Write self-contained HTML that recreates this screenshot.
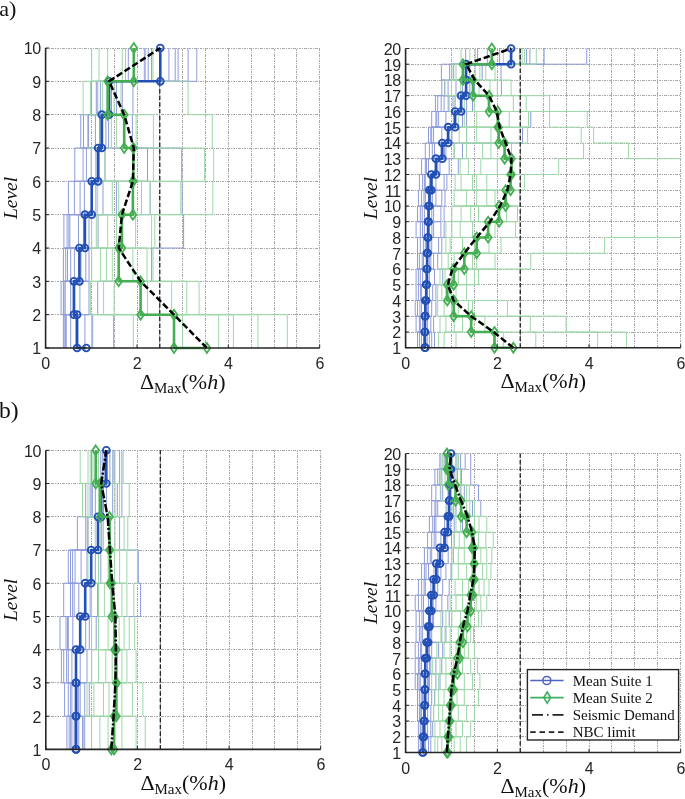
<!DOCTYPE html>
<html><head><meta charset="utf-8"><title>Drift profiles</title><style>
html,body{margin:0;padding:0;background:#fff;}
body{width:685px;height:799px;overflow:hidden;}
svg{display:block;}
.tk{font-family:"Liberation Sans",Arial,sans-serif;font-size:16px;letter-spacing:-0.4px;fill:#262626;}
.xl{font-family:"Liberation Serif","Times New Roman",serif;font-size:22px;fill:#111;}
.sub{font-size:15px;}
.yl{font-family:"Liberation Serif","Times New Roman",serif;font-size:19.5px;font-style:italic;fill:#111;}
.pl{font-family:"Liberation Serif","Times New Roman",serif;font-size:22px;fill:#111;}
.lt{font-family:"Liberation Serif","Times New Roman",serif;font-size:15px;fill:#111;}
</style></head>
<body>
<svg width="685" height="799" viewBox="0 0 685 799">
<rect width="685" height="799" fill="#fff"/>
<path d="M91.3,348.0V48.0M114.1,348.0V48.0M137.0,348.0V48.0M159.8,348.0V48.0M182.6,348.0V48.0M205.5,348.0V48.0M228.3,348.0V48.0M251.2,348.0V48.0M274.0,348.0V48.0M296.9,348.0V48.0M319.7,348.0V48.0M45.6,314.7H319.7M45.6,281.3H319.7M45.6,248.0H319.7M45.6,214.7H319.7M45.6,181.3H319.7M45.6,148.0H319.7M45.6,114.7H319.7M45.6,81.3H319.7M45.6,48.0H319.7" stroke="#a8a8a8" stroke-width="1" stroke-dasharray="2.5 1 1 1" fill="none" shape-rendering="crispEdges"/>
<clipPath id="cpA"><rect x="45.6" y="47.0" width="274.6" height="302.0"/></clipPath>
<g clip-path="url(#cpA)">
<path d="M66.2,348.0 L66.2,348.0 L66.2,314.7 L61.1,314.7 L61.1,281.3 L70.7,281.3 L70.7,248.0 L98.1,248.0 L98.1,214.7 L150.2,214.7 L150.2,181.3 L91.3,181.3 L91.3,148.0 L105.9,148.0 L105.9,114.7 L122.3,114.7 L122.3,81.3 L178.1,81.3 L178.1,48.0" stroke="#8f9cdb" stroke-width="1" fill="none"/>
<path d="M70.7,348.0 L70.7,348.0 L70.7,314.7 L63.4,314.7 L63.4,281.3 L89.0,281.3 L89.0,248.0 L67.1,248.0 L67.1,214.7 L95.9,214.7 L95.9,181.3 L95.9,181.3 L95.9,148.0 L95.4,148.0 L95.4,114.7 L107.3,114.7 L107.3,81.3 L188.1,81.3 L188.1,48.0" stroke="#8f9cdb" stroke-width="1" fill="none"/>
<path d="M92.7,348.0 L92.7,348.0 L92.7,314.7 L65.2,314.7 L65.2,281.3 L85.8,281.3 L85.8,248.0 L69.8,248.0 L69.8,214.7 L116.4,214.7 L116.4,181.3 L83.1,181.3 L83.1,148.0 L108.6,148.0 L108.6,114.7 L91.3,114.7 L91.3,81.3 L144.3,81.3 L144.3,48.0" stroke="#8f9cdb" stroke-width="1" fill="none"/>
<path d="M63.4,348.0 L63.4,348.0 L63.4,314.7 L79.9,314.7 L79.9,281.3 L74.4,281.3 L74.4,248.0 L63.9,248.0 L63.9,214.7 L68.4,214.7 L68.4,181.3 L105.0,181.3 L105.0,148.0 L83.5,148.0 L83.5,114.7 L100.4,114.7 L100.4,81.3 L128.3,81.3 L128.3,48.0" stroke="#8f9cdb" stroke-width="1" fill="none"/>
<path d="M84.9,348.0 L84.9,348.0 L84.9,314.7 L89.0,314.7 L89.0,281.3 L63.4,281.3 L63.4,248.0 L89.0,248.0 L89.0,214.7 L74.4,214.7 L74.4,181.3 L147.5,181.3 L147.5,148.0 L80.8,148.0 L80.8,114.7 L96.3,114.7 L96.3,81.3 L151.6,81.3 L151.6,48.0" stroke="#8f9cdb" stroke-width="1" fill="none"/>
<path d="M64.8,348.0 L64.8,348.0 L64.8,314.7 L70.7,314.7 L70.7,281.3 L65.7,281.3 L65.7,248.0 L78.5,248.0 L78.5,214.7 L84.4,214.7 L84.4,181.3 L74.8,181.3 L74.8,148.0 L99.5,148.0 L99.5,114.7 L116.4,114.7 L116.4,81.3 L168.9,81.3 L168.9,48.0" stroke="#8f9cdb" stroke-width="1" fill="none"/>
<path d="M113.7,348.0 L113.7,348.0 L113.7,314.7 L97.7,314.7 L97.7,281.3 L151.6,281.3 L151.6,248.0 L183.6,248.0 L183.6,214.7 L182.2,214.7 L182.2,181.3 L181.7,181.3 L181.7,148.0 L132.4,148.0 L132.4,114.7 L132.9,114.7 L132.9,81.3 L196.8,81.3 L196.8,48.0" stroke="#8f9cdb" stroke-width="1" fill="none"/>
<path d="M65.7,348.0 L65.7,348.0 L65.7,314.7 L64.0,314.7 L64.0,281.3 L67.5,281.3 L67.5,248.0 L68.9,248.0 L68.9,214.7 L80.1,214.7 L80.1,181.3 L86.4,181.3 L86.4,148.0 L88.5,148.0 L88.5,114.7 L97.6,114.7 L97.6,81.3 L148.2,81.3 L148.2,48.0" stroke="#8f9cdb" stroke-width="1" fill="none"/>
<path d="M75.9,348.0 L75.9,348.0 L75.9,314.7 L74.7,314.7 L74.7,281.3 L81.0,281.3 L81.0,248.0 L83.4,248.0 L83.4,214.7 L103.0,214.7 L103.0,181.3 L99.1,181.3 L99.1,148.0 L102.7,148.0 L102.7,114.7 L111.5,114.7 L111.5,81.3 L175.2,81.3 L175.2,48.0" stroke="#8f9cdb" stroke-width="1" fill="none"/>
<path d="M182.6,348.0 L182.6,348.0 L182.6,314.7 L103.6,314.7 L103.6,281.3 L147.0,281.3 L147.0,248.0 L91.7,248.0 L91.7,214.7 L180.8,214.7 L180.8,181.3 L153.4,181.3 L153.4,148.0 L116.4,148.0 L116.4,114.7 L114.1,114.7 L114.1,81.3 L91.7,81.3 L91.7,48.0" stroke="#9dd8a8" stroke-width="1" fill="none"/>
<path d="M218.7,348.0 L218.7,348.0 L218.7,314.7 L90.4,314.7 L90.4,281.3 L106.4,281.3 L106.4,248.0 L96.3,248.0 L96.3,214.7 L112.3,214.7 L112.3,181.3 L91.3,181.3 L91.3,148.0 L111.4,148.0 L111.4,114.7 L102.7,114.7 L102.7,81.3 L107.7,81.3 L107.7,48.0" stroke="#9dd8a8" stroke-width="1" fill="none"/>
<path d="M133.3,348.0 L133.3,348.0 L133.3,314.7 L147.5,314.7 L147.5,281.3 L112.3,281.3 L112.3,248.0 L116.4,248.0 L116.4,214.7 L141.5,214.7 L141.5,181.3 L98.1,181.3 L98.1,148.0 L87.6,148.0 L87.6,114.7 L83.1,114.7 L83.1,81.3 L122.3,81.3 L122.3,48.0" stroke="#9dd8a8" stroke-width="1" fill="none"/>
<path d="M233.4,348.0 L233.4,348.0 L233.4,314.7 L171.7,314.7 L171.7,281.3 L100.4,281.3 L100.4,248.0 L107.7,248.0 L107.7,214.7 L97.7,214.7 L97.7,181.3 L204.6,181.3 L204.6,148.0 L153.4,148.0 L153.4,114.7 L121.0,114.7 L121.0,81.3 L99.0,81.3 L99.0,48.0" stroke="#9dd8a8" stroke-width="1" fill="none"/>
<path d="M258.0,348.0 L258.0,348.0 L258.0,314.7 L114.1,314.7 L114.1,281.3 L91.7,281.3 L91.7,248.0 L135.6,248.0 L135.6,214.7 L118.7,214.7 L118.7,181.3 L105.0,181.3 L105.0,148.0 L100.4,148.0 L100.4,114.7 L97.7,114.7 L97.7,81.3 L145.6,81.3 L145.6,48.0" stroke="#9dd8a8" stroke-width="1" fill="none"/>
<path d="M91.7,348.0 L91.7,348.0 L91.7,314.7 L186.8,314.7 L186.8,281.3 L132.9,281.3 L132.9,248.0 L151.6,248.0 L151.6,214.7 L150.2,214.7 L150.2,181.3 L132.4,181.3 L132.4,148.0 L136.1,148.0 L136.1,114.7 L90.4,114.7 L90.4,81.3 L125.5,81.3 L125.5,48.0" stroke="#9dd8a8" stroke-width="1" fill="none"/>
<path d="M287.3,348.0 L287.3,348.0 L287.3,314.7 L199.1,314.7 L199.1,281.3 L153.0,281.3 L153.0,248.0 L154.8,248.0 L154.8,214.7 L212.8,214.7 L212.8,181.3 L213.7,181.3 L213.7,148.0 L212.3,148.0 L212.3,114.7 L188.1,114.7 L188.1,81.3 L153.0,81.3 L153.0,48.0" stroke="#9dd8a8" stroke-width="1" fill="none"/>
</g>
<path d="M159.8,348.0V48.0" stroke="#111" stroke-width="1.2" stroke-dasharray="4.5 2.2" fill="none"/>
<path d="M86.3,348.0 L77.1,348.0 L77.1,314.7 L73.9,314.7 L73.9,281.3 L79.4,281.3 L79.4,248.0 L84.9,248.0 L84.9,214.7 L91.7,214.7 L91.7,181.3 L98.1,181.3 L98.1,148.0 L101.8,148.0 L101.8,114.7 L109.1,114.7 L109.1,81.3 L160.3,81.3 L160.3,48.0" stroke="#2350b5" stroke-width="2.6" fill="none" stroke-linejoin="round"/>
<circle cx="86.3" cy="348.0" r="3.4" stroke="#2350b5" stroke-width="1.9" fill="none"/>
<circle cx="77.1" cy="348.0" r="3.4" stroke="#2350b5" stroke-width="1.9" fill="none"/>
<circle cx="77.1" cy="314.7" r="3.4" stroke="#2350b5" stroke-width="1.9" fill="none"/>
<circle cx="73.9" cy="314.7" r="3.4" stroke="#2350b5" stroke-width="1.9" fill="none"/>
<circle cx="73.9" cy="281.3" r="3.4" stroke="#2350b5" stroke-width="1.9" fill="none"/>
<circle cx="79.4" cy="281.3" r="3.4" stroke="#2350b5" stroke-width="1.9" fill="none"/>
<circle cx="79.4" cy="248.0" r="3.4" stroke="#2350b5" stroke-width="1.9" fill="none"/>
<circle cx="84.9" cy="248.0" r="3.4" stroke="#2350b5" stroke-width="1.9" fill="none"/>
<circle cx="84.9" cy="214.7" r="3.4" stroke="#2350b5" stroke-width="1.9" fill="none"/>
<circle cx="91.7" cy="214.7" r="3.4" stroke="#2350b5" stroke-width="1.9" fill="none"/>
<circle cx="91.7" cy="181.3" r="3.4" stroke="#2350b5" stroke-width="1.9" fill="none"/>
<circle cx="98.1" cy="181.3" r="3.4" stroke="#2350b5" stroke-width="1.9" fill="none"/>
<circle cx="98.1" cy="148.0" r="3.4" stroke="#2350b5" stroke-width="1.9" fill="none"/>
<circle cx="101.8" cy="148.0" r="3.4" stroke="#2350b5" stroke-width="1.9" fill="none"/>
<circle cx="101.8" cy="114.7" r="3.4" stroke="#2350b5" stroke-width="1.9" fill="none"/>
<circle cx="109.1" cy="114.7" r="3.4" stroke="#2350b5" stroke-width="1.9" fill="none"/>
<circle cx="109.1" cy="81.3" r="3.4" stroke="#2350b5" stroke-width="1.9" fill="none"/>
<circle cx="160.3" cy="81.3" r="3.4" stroke="#2350b5" stroke-width="1.9" fill="none"/>
<circle cx="160.3" cy="48.0" r="3.4" stroke="#2350b5" stroke-width="1.9" fill="none"/>
<path d="M206.9,348.0 L174.0,348.0 L174.0,314.7 L140.6,314.7 L140.6,281.3 L118.7,281.3 L118.7,248.0 L121.9,248.0 L121.9,214.7 L132.9,214.7 L132.9,181.3 L133.3,181.3 L133.3,148.0 L124.2,148.0 L124.2,114.7 L107.7,114.7 L107.7,81.3 L133.8,81.3 L133.8,48.0" stroke="#45ae52" stroke-width="2.6" fill="none" stroke-linejoin="round"/>
<path d="M206.9,343.1L210.3,348.0L206.9,352.9L203.5,348.0Z" stroke="#45ae52" stroke-width="1.8" fill="none"/>
<path d="M174.0,343.1L177.4,348.0L174.0,352.9L170.6,348.0Z" stroke="#45ae52" stroke-width="1.8" fill="none"/>
<path d="M174.0,309.8L177.4,314.7L174.0,319.6L170.6,314.7Z" stroke="#45ae52" stroke-width="1.8" fill="none"/>
<path d="M140.6,309.8L144.0,314.7L140.6,319.6L137.2,314.7Z" stroke="#45ae52" stroke-width="1.8" fill="none"/>
<path d="M140.6,276.4L144.0,281.3L140.6,286.2L137.2,281.3Z" stroke="#45ae52" stroke-width="1.8" fill="none"/>
<path d="M118.7,276.4L122.1,281.3L118.7,286.2L115.3,281.3Z" stroke="#45ae52" stroke-width="1.8" fill="none"/>
<path d="M118.7,243.1L122.1,248.0L118.7,252.9L115.3,248.0Z" stroke="#45ae52" stroke-width="1.8" fill="none"/>
<path d="M121.9,243.1L125.3,248.0L121.9,252.9L118.5,248.0Z" stroke="#45ae52" stroke-width="1.8" fill="none"/>
<path d="M121.9,209.8L125.3,214.7L121.9,219.6L118.5,214.7Z" stroke="#45ae52" stroke-width="1.8" fill="none"/>
<path d="M132.9,209.8L136.3,214.7L132.9,219.6L129.5,214.7Z" stroke="#45ae52" stroke-width="1.8" fill="none"/>
<path d="M132.9,176.4L136.3,181.3L132.9,186.2L129.5,181.3Z" stroke="#45ae52" stroke-width="1.8" fill="none"/>
<path d="M133.3,176.4L136.7,181.3L133.3,186.2L129.9,181.3Z" stroke="#45ae52" stroke-width="1.8" fill="none"/>
<path d="M133.3,143.1L136.7,148.0L133.3,152.9L129.9,148.0Z" stroke="#45ae52" stroke-width="1.8" fill="none"/>
<path d="M124.2,143.1L127.6,148.0L124.2,152.9L120.8,148.0Z" stroke="#45ae52" stroke-width="1.8" fill="none"/>
<path d="M124.2,109.8L127.6,114.7L124.2,119.6L120.8,114.7Z" stroke="#45ae52" stroke-width="1.8" fill="none"/>
<path d="M107.7,109.8L111.1,114.7L107.7,119.6L104.3,114.7Z" stroke="#45ae52" stroke-width="1.8" fill="none"/>
<path d="M107.7,76.4L111.1,81.3L107.7,86.2L104.3,81.3Z" stroke="#45ae52" stroke-width="1.8" fill="none"/>
<path d="M133.8,76.4L137.2,81.3L133.8,86.2L130.4,81.3Z" stroke="#45ae52" stroke-width="1.8" fill="none"/>
<path d="M133.8,43.1L137.2,48.0L133.8,52.9L130.4,48.0Z" stroke="#45ae52" stroke-width="1.8" fill="none"/>
<path d="M206.9,348.0 L174.0,314.7 L140.6,281.3 L118.7,248.0 L121.9,214.7 L132.9,181.3 L133.8,148.0 L124.2,114.7 L109.1,81.3 L160.3,48.0" stroke="#000" stroke-width="2.5" stroke-dasharray="6.5 2.8" fill="none"/>
<path d="M45.6,48.0V348.0H319.7" stroke="#262626" stroke-width="1.6" fill="none"/>
<path d="M45.6,348.0h3.5M45.6,314.7h3.5M45.6,281.3h3.5M45.6,248.0h3.5M45.6,214.7h3.5M45.6,181.3h3.5M45.6,148.0h3.5M45.6,114.7h3.5M45.6,81.3h3.5M45.6,48.0h3.5M45.6,348.0v-3.5M137.0,348.0v-3.5M228.3,348.0v-3.5M319.7,348.0v-3.5" stroke="#262626" stroke-width="1" fill="none"/>
<text x="40.8" y="354.4" text-anchor="end" class="tk">1</text>
<text x="40.8" y="321.1" text-anchor="end" class="tk">2</text>
<text x="40.8" y="287.7" text-anchor="end" class="tk">3</text>
<text x="40.8" y="254.4" text-anchor="end" class="tk">4</text>
<text x="40.8" y="221.1" text-anchor="end" class="tk">5</text>
<text x="40.8" y="187.7" text-anchor="end" class="tk">6</text>
<text x="40.8" y="154.4" text-anchor="end" class="tk">7</text>
<text x="40.8" y="121.1" text-anchor="end" class="tk">8</text>
<text x="40.8" y="87.7" text-anchor="end" class="tk">9</text>
<text x="40.8" y="54.4" text-anchor="end" class="tk">10</text>
<text x="45.6" y="369.0" text-anchor="middle" class="tk">0</text>
<text x="137.0" y="369.0" text-anchor="middle" class="tk">2</text>
<text x="228.3" y="369.0" text-anchor="middle" class="tk">4</text>
<text x="319.7" y="369.0" text-anchor="middle" class="tk">6</text>
<text x="182.7" y="388.5" text-anchor="middle" class="xl">&#916;<tspan class="sub" dy="4">Max</tspan><tspan dy="-4">(%</tspan><tspan font-style="italic">h</tspan>)</text>
<text transform="translate(16.6,198.0) rotate(-90)" text-anchor="middle" class="yl">Level</text>
<path d="M451.5,347.7V48.5M474.4,347.7V48.5M497.3,347.7V48.5M520.2,347.7V48.5M543.2,347.7V48.5M566.1,347.7V48.5M589.0,347.7V48.5M611.9,347.7V48.5M634.9,347.7V48.5M657.8,347.7V48.5M680.7,347.7V48.5M405.6,332.0H680.7M405.6,316.2H680.7M405.6,300.5H680.7M405.6,284.7H680.7M405.6,269.0H680.7M405.6,253.2H680.7M405.6,237.5H680.7M405.6,221.7H680.7M405.6,206.0H680.7M405.6,190.2H680.7M405.6,174.5H680.7M405.6,158.7H680.7M405.6,143.0H680.7M405.6,127.2H680.7M405.6,111.5H680.7M405.6,95.7H680.7M405.6,80.0H680.7M405.6,64.2H680.7M405.6,48.5H680.7" stroke="#a8a8a8" stroke-width="1" stroke-dasharray="2.5 1 1 1" fill="none" shape-rendering="crispEdges"/>
<clipPath id="cpB"><rect x="405.6" y="47.5" width="275.6" height="301.2"/></clipPath>
<g clip-path="url(#cpB)">
<path d="M417.5,347.7 L417.5,347.7 L417.5,332.0 L419.4,332.0 L419.4,316.2 L428.5,316.2 L428.5,300.5 L421.6,300.5 L421.6,284.7 L429.4,284.7 L429.4,269.0 L427.6,269.0 L427.6,253.2 L431.7,253.2 L431.7,237.5 L416.1,237.5 L416.1,221.7 L440.9,221.7 L440.9,206.0 L418.4,206.0 L418.4,190.2 L419.4,190.2 L419.4,174.5 L425.3,174.5 L425.3,158.7 L429.4,158.7 L429.4,143.0 L430.8,143.0 L430.8,127.2 L445.9,127.2 L445.9,111.5 L444.1,111.5 L444.1,95.7 L451.5,95.7 L451.5,80.0 L449.6,80.0 L449.6,64.2 L465.7,64.2 L465.7,48.5" stroke="#8f9cdb" stroke-width="1" fill="none"/>
<path d="M423.5,347.7 L423.5,347.7 L423.5,332.0 L424.4,332.0 L424.4,316.2 L431.7,316.2 L431.7,300.5 L416.1,300.5 L416.1,284.7 L416.1,284.7 L416.1,269.0 L430.8,269.0 L430.8,253.2 L428.5,253.2 L428.5,237.5 L420.3,237.5 L420.3,221.7 L433.6,221.7 L433.6,206.0 L435.9,206.0 L435.9,190.2 L422.6,190.2 L422.6,174.5 L421.6,174.5 L421.6,158.7 L445.9,158.7 L445.9,143.0 L441.8,143.0 L441.8,127.2 L431.7,127.2 L431.7,111.5 L437.7,111.5 L437.7,95.7 L469.8,95.7 L469.8,80.0 L453.7,80.0 L453.7,64.2 L477.6,64.2 L477.6,48.5" stroke="#8f9cdb" stroke-width="1" fill="none"/>
<path d="M425.3,347.7 L425.3,347.7 L425.3,332.0 L422.6,332.0 L422.6,316.2 L415.2,316.2 L415.2,300.5 L418.4,300.5 L418.4,284.7 L422.6,284.7 L422.6,269.0 L423.5,269.0 L423.5,253.2 L420.3,253.2 L420.3,237.5 L424.4,237.5 L424.4,221.7 L429.4,221.7 L429.4,206.0 L441.8,206.0 L441.8,190.2 L435.9,190.2 L435.9,174.5 L449.2,174.5 L449.2,158.7 L440.9,158.7 L440.9,143.0 L451.9,143.0 L451.9,127.2 L435.9,127.2 L435.9,111.5 L466.6,111.5 L466.6,95.7 L474.4,95.7 L474.4,80.0 L469.8,80.0 L469.8,64.2 L544.1,64.2 L544.1,48.5" stroke="#8f9cdb" stroke-width="1" fill="none"/>
<path d="M431.7,347.7 L431.7,347.7 L431.7,332.0 L416.1,332.0 L416.1,316.2 L417.5,316.2 L417.5,300.5 L426.2,300.5 L426.2,284.7 L426.7,284.7 L426.7,269.0 L419.4,269.0 L419.4,253.2 L438.6,253.2 L438.6,237.5 L433.6,237.5 L433.6,221.7 L417.5,221.7 L417.5,206.0 L425.3,206.0 L425.3,190.2 L429.4,190.2 L429.4,174.5 L435.9,174.5 L435.9,158.7 L454.2,158.7 L454.2,143.0 L428.5,143.0 L428.5,127.2 L438.6,127.2 L438.6,111.5 L455.1,111.5 L455.1,95.7 L444.6,95.7 L444.6,80.0 L441.4,80.0 L441.4,64.2 L499.6,64.2 L499.6,48.5" stroke="#8f9cdb" stroke-width="1" fill="none"/>
<path d="M429.4,347.7 L429.4,347.7 L429.4,332.0 L427.6,332.0 L427.6,316.2 L421.6,316.2 L421.6,300.5 L432.7,300.5 L432.7,284.7 L434.5,284.7 L434.5,269.0 L417.5,269.0 L417.5,253.2 L417.5,253.2 L417.5,237.5 L429.4,237.5 L429.4,221.7 L424.4,221.7 L424.4,206.0 L421.6,206.0 L421.6,190.2 L425.3,190.2 L425.3,174.5 L428.5,174.5 L428.5,158.7 L425.3,158.7 L425.3,143.0 L433.6,143.0 L433.6,127.2 L462.5,127.2 L462.5,111.5 L448.2,111.5 L448.2,95.7 L456.0,95.7 L456.0,80.0 L482.2,80.0 L482.2,64.2 L529.9,64.2 L529.9,48.5" stroke="#8f9cdb" stroke-width="1" fill="none"/>
<path d="M419.4,347.7 L419.4,347.7 L419.4,332.0 L430.8,332.0 L430.8,316.2 L426.2,316.2 L426.2,300.5 L429.4,300.5 L429.4,284.7 L418.4,284.7 L418.4,269.0 L433.6,269.0 L433.6,253.2 L425.3,253.2 L425.3,237.5 L440.9,237.5 L440.9,221.7 L420.3,221.7 L420.3,206.0 L430.8,206.0 L430.8,190.2 L444.1,190.2 L444.1,174.5 L440.0,174.5 L440.0,158.7 L434.5,158.7 L434.5,143.0 L466.6,143.0 L466.6,127.2 L466.6,127.2 L466.6,111.5 L435.4,111.5 L435.4,95.7 L441.8,95.7 L441.8,80.0 L462.9,80.0 L462.9,64.2 L519.8,64.2 L519.8,48.5" stroke="#8f9cdb" stroke-width="1" fill="none"/>
<path d="M434.5,347.7 L434.5,347.7 L434.5,332.0 L433.6,332.0 L433.6,316.2 L435.9,316.2 L435.9,300.5 L435.9,300.5 L435.9,284.7 L442.7,284.7 L442.7,269.0 L437.7,269.0 L437.7,253.2 L441.8,253.2 L441.8,237.5 L444.1,237.5 L444.1,221.7 L444.1,221.7 L444.1,206.0 L445.0,206.0 L445.0,190.2 L446.9,190.2 L446.9,174.5 L458.3,174.5 L458.3,158.7 L462.5,158.7 L462.5,143.0 L522.5,143.0 L522.5,127.2 L530.8,127.2 L530.8,111.5 L472.5,111.5 L472.5,95.7 L501.4,95.7 L501.4,80.0 L501.0,80.0 L501.0,64.2 L586.7,64.2 L586.7,48.5" stroke="#8f9cdb" stroke-width="1" fill="none"/>
<path d="M421.4,347.7 L421.4,347.7 L421.4,332.0 L420.3,332.0 L420.3,316.2 L419.9,316.2 L419.9,300.5 L420.6,300.5 L420.6,284.7 L420.3,284.7 L420.3,269.0 L422.2,269.0 L422.2,253.2 L423.4,253.2 L423.4,237.5 L422.5,237.5 L422.5,221.7 L422.2,221.7 L422.2,206.0 L424.0,206.0 L424.0,190.2 L424.4,190.2 L424.4,174.5 L426.5,174.5 L426.5,158.7 L432.3,158.7 L432.3,143.0 L431.7,143.0 L431.7,127.2 L436.8,127.2 L436.8,111.5 L441.2,111.5 L441.2,95.7 L448.1,95.7 L448.1,80.0 L451.6,80.0 L451.6,64.2 L487.3,64.2 L487.3,48.5" stroke="#8f9cdb" stroke-width="1" fill="none"/>
<path d="M427.2,347.7 L427.2,347.7 L427.2,332.0 L425.9,332.0 L425.9,316.2 L427.3,316.2 L427.3,300.5 L427.3,300.5 L427.3,284.7 L428.1,284.7 L428.1,269.0 L429.3,269.0 L429.3,253.2 L429.9,253.2 L429.9,237.5 L431.9,237.5 L431.9,221.7 L431.8,221.7 L431.8,206.0 L432.4,206.0 L432.4,190.2 L432.6,190.2 L432.6,174.5 L437.8,174.5 L437.8,158.7 L444.4,158.7 L444.4,143.0 L447.2,143.0 L447.2,127.2 L453.7,127.2 L453.7,111.5 L453.0,111.5 L453.0,95.7 L462.3,95.7 L462.3,80.0 L466.0,80.0 L466.0,64.2 L526.6,64.2 L526.6,48.5" stroke="#8f9cdb" stroke-width="1" fill="none"/>
<path d="M503.3,347.7 L503.3,347.7 L503.3,332.0 L484.9,332.0 L484.9,316.2 L444.1,316.2 L444.1,300.5 L450.1,300.5 L450.1,284.7 L466.6,284.7 L466.6,269.0 L441.8,269.0 L441.8,253.2 L474.4,253.2 L474.4,237.5 L495.0,237.5 L495.0,221.7 L517.5,221.7 L517.5,206.0 L466.6,206.0 L466.6,190.2 L455.1,190.2 L455.1,174.5 L497.3,174.5 L497.3,158.7 L511.5,158.7 L511.5,143.0 L459.2,143.0 L459.2,127.2 L476.7,127.2 L476.7,111.5 L513.3,111.5 L513.3,95.7 L451.5,95.7 L451.5,80.0 L456.0,80.0 L456.0,64.2 L524.4,64.2 L524.4,48.5" stroke="#9dd8a8" stroke-width="1" fill="none"/>
<path d="M597.7,347.7 L597.7,347.7 L597.7,332.0 L454.2,332.0 L454.2,316.2 L472.5,316.2 L472.5,300.5 L437.7,300.5 L437.7,284.7 L458.3,284.7 L458.3,269.0 L495.0,269.0 L495.0,253.2 L450.1,253.2 L450.1,237.5 L460.2,237.5 L460.2,221.7 L461.1,221.7 L461.1,206.0 L519.8,206.0 L519.8,190.2 L486.8,190.2 L486.8,174.5 L460.2,174.5 L460.2,158.7 L466.6,158.7 L466.6,143.0 L466.6,143.0 L466.6,127.2 L509.2,127.2 L509.2,111.5 L455.1,111.5 L455.1,95.7 L445.0,95.7 L445.0,80.0 L475.3,80.0 L475.3,64.2 L503.3,64.2 L503.3,48.5" stroke="#9dd8a8" stroke-width="1" fill="none"/>
<path d="M535.8,347.7 L535.8,347.7 L535.8,332.0 L530.3,332.0 L530.3,316.2 L437.7,316.2 L437.7,300.5 L441.8,300.5 L441.8,284.7 L474.4,284.7 L474.4,269.0 L472.5,269.0 L472.5,253.2 L489.0,253.2 L489.0,237.5 L445.9,237.5 L445.9,221.7 L506.5,221.7 L506.5,206.0 L486.8,206.0 L486.8,190.2 L461.1,190.2 L461.1,174.5 L519.8,174.5 L519.8,158.7 L482.6,158.7 L482.6,143.0 L476.7,143.0 L476.7,127.2 L528.5,127.2 L528.5,111.5 L449.2,111.5 L449.2,95.7 L497.3,95.7 L497.3,80.0 L485.8,80.0 L485.8,64.2 L461.1,64.2 L461.1,48.5" stroke="#9dd8a8" stroke-width="1" fill="none"/>
<path d="M438.6,347.7 L438.6,347.7 L438.6,332.0 L440.0,332.0 L440.0,316.2 L451.5,316.2 L451.5,300.5 L445.9,300.5 L445.9,284.7 L445.0,284.7 L445.0,269.0 L476.7,269.0 L476.7,253.2 L445.9,253.2 L445.9,237.5 L451.9,237.5 L451.9,221.7 L451.9,221.7 L451.9,206.0 L495.0,206.0 L495.0,190.2 L472.5,190.2 L472.5,174.5 L480.8,174.5 L480.8,158.7 L490.9,158.7 L490.9,143.0 L490.9,143.0 L490.9,127.2 L458.3,127.2 L458.3,111.5 L464.3,111.5 L464.3,95.7 L460.6,95.7 L460.6,80.0 L479.9,80.0 L479.9,64.2 L469.8,64.2 L469.8,48.5" stroke="#9dd8a8" stroke-width="1" fill="none"/>
<path d="M456.0,347.7 L456.0,347.7 L456.0,332.0 L445.9,332.0 L445.9,316.2 L468.4,316.2 L468.4,300.5 L456.0,300.5 L456.0,284.7 L451.5,284.7 L451.5,269.0 L448.2,269.0 L448.2,253.2 L462.5,253.2 L462.5,237.5 L472.5,237.5 L472.5,221.7 L470.7,221.7 L470.7,206.0 L476.7,206.0 L476.7,190.2 L524.4,190.2 L524.4,174.5 L558.7,174.5 L558.7,158.7 L583.5,158.7 L583.5,143.0 L581.2,143.0 L581.2,127.2 L549.6,127.2 L549.6,111.5 L474.4,111.5 L474.4,95.7 L490.0,95.7 L490.0,80.0 L451.9,80.0 L451.9,64.2 L522.1,64.2 L522.1,48.5" stroke="#9dd8a8" stroke-width="1" fill="none"/>
<path d="M444.1,347.7 L444.1,347.7 L444.1,332.0 L462.5,332.0 L462.5,316.2 L458.3,316.2 L458.3,300.5 L451.9,300.5 L451.9,284.7 L440.0,284.7 L440.0,269.0 L454.2,269.0 L454.2,253.2 L501.0,253.2 L501.0,237.5 L515.6,237.5 L515.6,221.7 L478.5,221.7 L478.5,206.0 L454.2,206.0 L454.2,190.2 L476.7,190.2 L476.7,174.5 L468.4,174.5 L468.4,158.7 L454.2,158.7 L454.2,143.0 L527.6,143.0 L527.6,127.2 L464.3,127.2 L464.3,111.5 L526.2,111.5 L526.2,95.7 L479.0,95.7 L479.0,80.0 L465.2,80.0 L465.2,64.2 L475.3,64.2 L475.3,48.5" stroke="#9dd8a8" stroke-width="1" fill="none"/>
<path d="M626.6,347.7 L626.6,347.7 L626.6,332.0 L566.1,332.0 L566.1,316.2 L507.4,316.2 L507.4,300.5 L466.6,300.5 L466.6,284.7 L478.5,284.7 L478.5,269.0 L530.8,269.0 L530.8,253.2 L604.6,253.2 L604.6,237.5 L726.6,237.5 L726.6,221.7 L726.6,221.7 L726.6,206.0 L726.6,206.0 L726.6,190.2 L726.6,190.2 L726.6,174.5 L726.6,174.5 L726.6,158.7 L628.4,158.7 L628.4,143.0 L593.6,143.0 L593.6,127.2 L587.2,127.2 L587.2,111.5 L549.6,111.5 L549.6,95.7 L511.1,95.7 L511.1,80.0 L495.0,80.0 L495.0,64.2 L536.3,64.2 L536.3,48.5" stroke="#9dd8a8" stroke-width="1" fill="none"/>
</g>
<path d="M520.2,347.7V48.5" stroke="#111" stroke-width="1.2" stroke-dasharray="4.5 2.2" fill="none"/>
<path d="M425.3,347.7 L424.9,347.7 L424.9,332.0 L424.9,332.0 L424.9,316.2 L425.3,316.2 L425.3,300.5 L426.2,300.5 L426.2,284.7 L426.7,284.7 L426.7,269.0 L427.1,269.0 L427.1,253.2 L427.6,253.2 L427.6,237.5 L428.1,237.5 L428.1,221.7 L428.5,221.7 L428.5,206.0 L429.4,206.0 L429.4,190.2 L431.3,190.2 L431.3,174.5 L435.9,174.5 L435.9,158.7 L442.3,158.7 L442.3,143.0 L448.2,143.0 L448.2,127.2 L455.1,127.2 L455.1,111.5 L461.1,111.5 L461.1,95.7 L466.1,95.7 L466.1,80.0 L466.1,80.0 L466.1,64.2 L511.1,64.2 L511.1,48.5" stroke="#2350b5" stroke-width="2.6" fill="none" stroke-linejoin="round"/>
<circle cx="425.3" cy="347.7" r="3.4" stroke="#2350b5" stroke-width="1.9" fill="none"/>
<circle cx="424.9" cy="347.7" r="3.4" stroke="#2350b5" stroke-width="1.9" fill="none"/>
<circle cx="424.9" cy="332.0" r="3.4" stroke="#2350b5" stroke-width="1.9" fill="none"/>
<circle cx="424.9" cy="332.0" r="3.4" stroke="#2350b5" stroke-width="1.9" fill="none"/>
<circle cx="424.9" cy="316.2" r="3.4" stroke="#2350b5" stroke-width="1.9" fill="none"/>
<circle cx="425.3" cy="316.2" r="3.4" stroke="#2350b5" stroke-width="1.9" fill="none"/>
<circle cx="425.3" cy="300.5" r="3.4" stroke="#2350b5" stroke-width="1.9" fill="none"/>
<circle cx="426.2" cy="300.5" r="3.4" stroke="#2350b5" stroke-width="1.9" fill="none"/>
<circle cx="426.2" cy="284.7" r="3.4" stroke="#2350b5" stroke-width="1.9" fill="none"/>
<circle cx="426.7" cy="284.7" r="3.4" stroke="#2350b5" stroke-width="1.9" fill="none"/>
<circle cx="426.7" cy="269.0" r="3.4" stroke="#2350b5" stroke-width="1.9" fill="none"/>
<circle cx="427.1" cy="269.0" r="3.4" stroke="#2350b5" stroke-width="1.9" fill="none"/>
<circle cx="427.1" cy="253.2" r="3.4" stroke="#2350b5" stroke-width="1.9" fill="none"/>
<circle cx="427.6" cy="253.2" r="3.4" stroke="#2350b5" stroke-width="1.9" fill="none"/>
<circle cx="427.6" cy="237.5" r="3.4" stroke="#2350b5" stroke-width="1.9" fill="none"/>
<circle cx="428.1" cy="237.5" r="3.4" stroke="#2350b5" stroke-width="1.9" fill="none"/>
<circle cx="428.1" cy="221.7" r="3.4" stroke="#2350b5" stroke-width="1.9" fill="none"/>
<circle cx="428.5" cy="221.7" r="3.4" stroke="#2350b5" stroke-width="1.9" fill="none"/>
<circle cx="428.5" cy="206.0" r="3.4" stroke="#2350b5" stroke-width="1.9" fill="none"/>
<circle cx="429.4" cy="206.0" r="3.4" stroke="#2350b5" stroke-width="1.9" fill="none"/>
<circle cx="429.4" cy="190.2" r="3.4" stroke="#2350b5" stroke-width="1.9" fill="none"/>
<circle cx="431.3" cy="190.2" r="3.4" stroke="#2350b5" stroke-width="1.9" fill="none"/>
<circle cx="431.3" cy="174.5" r="3.4" stroke="#2350b5" stroke-width="1.9" fill="none"/>
<circle cx="435.9" cy="174.5" r="3.4" stroke="#2350b5" stroke-width="1.9" fill="none"/>
<circle cx="435.9" cy="158.7" r="3.4" stroke="#2350b5" stroke-width="1.9" fill="none"/>
<circle cx="442.3" cy="158.7" r="3.4" stroke="#2350b5" stroke-width="1.9" fill="none"/>
<circle cx="442.3" cy="143.0" r="3.4" stroke="#2350b5" stroke-width="1.9" fill="none"/>
<circle cx="448.2" cy="143.0" r="3.4" stroke="#2350b5" stroke-width="1.9" fill="none"/>
<circle cx="448.2" cy="127.2" r="3.4" stroke="#2350b5" stroke-width="1.9" fill="none"/>
<circle cx="455.1" cy="127.2" r="3.4" stroke="#2350b5" stroke-width="1.9" fill="none"/>
<circle cx="455.1" cy="111.5" r="3.4" stroke="#2350b5" stroke-width="1.9" fill="none"/>
<circle cx="461.1" cy="111.5" r="3.4" stroke="#2350b5" stroke-width="1.9" fill="none"/>
<circle cx="461.1" cy="95.7" r="3.4" stroke="#2350b5" stroke-width="1.9" fill="none"/>
<circle cx="466.1" cy="95.7" r="3.4" stroke="#2350b5" stroke-width="1.9" fill="none"/>
<circle cx="466.1" cy="80.0" r="3.4" stroke="#2350b5" stroke-width="1.9" fill="none"/>
<circle cx="466.1" cy="80.0" r="3.4" stroke="#2350b5" stroke-width="1.9" fill="none"/>
<circle cx="466.1" cy="64.2" r="3.4" stroke="#2350b5" stroke-width="1.9" fill="none"/>
<circle cx="511.1" cy="64.2" r="3.4" stroke="#2350b5" stroke-width="1.9" fill="none"/>
<circle cx="511.1" cy="48.5" r="3.4" stroke="#2350b5" stroke-width="1.9" fill="none"/>
<path d="M513.3,347.7 L494.5,347.7 L494.5,332.0 L471.2,332.0 L471.2,316.2 L453.7,316.2 L453.7,300.5 L447.3,300.5 L447.3,284.7 L453.7,284.7 L453.7,269.0 L464.3,269.0 L464.3,253.2 L476.7,253.2 L476.7,237.5 L488.1,237.5 L488.1,221.7 L499.1,221.7 L499.1,206.0 L505.6,206.0 L505.6,190.2 L510.6,190.2 L510.6,174.5 L511.5,174.5 L511.5,158.7 L504.6,158.7 L504.6,143.0 L498.7,143.0 L498.7,127.2 L497.8,127.2 L497.8,111.5 L489.0,111.5 L489.0,95.7 L473.0,95.7 L473.0,80.0 L462.9,80.0 L462.9,64.2 L491.8,64.2 L491.8,48.5" stroke="#45ae52" stroke-width="2.6" fill="none" stroke-linejoin="round"/>
<path d="M513.3,342.8L516.7,347.7L513.3,352.6L509.9,347.7Z" stroke="#45ae52" stroke-width="1.8" fill="none"/>
<path d="M494.5,342.8L497.9,347.7L494.5,352.6L491.1,347.7Z" stroke="#45ae52" stroke-width="1.8" fill="none"/>
<path d="M494.5,327.1L497.9,332.0L494.5,336.9L491.1,332.0Z" stroke="#45ae52" stroke-width="1.8" fill="none"/>
<path d="M471.2,327.1L474.6,332.0L471.2,336.9L467.8,332.0Z" stroke="#45ae52" stroke-width="1.8" fill="none"/>
<path d="M471.2,311.3L474.6,316.2L471.2,321.1L467.8,316.2Z" stroke="#45ae52" stroke-width="1.8" fill="none"/>
<path d="M453.7,311.3L457.1,316.2L453.7,321.1L450.3,316.2Z" stroke="#45ae52" stroke-width="1.8" fill="none"/>
<path d="M453.7,295.6L457.1,300.5L453.7,305.4L450.3,300.5Z" stroke="#45ae52" stroke-width="1.8" fill="none"/>
<path d="M447.3,295.6L450.7,300.5L447.3,305.4L443.9,300.5Z" stroke="#45ae52" stroke-width="1.8" fill="none"/>
<path d="M447.3,279.8L450.7,284.7L447.3,289.6L443.9,284.7Z" stroke="#45ae52" stroke-width="1.8" fill="none"/>
<path d="M453.7,279.8L457.1,284.7L453.7,289.6L450.3,284.7Z" stroke="#45ae52" stroke-width="1.8" fill="none"/>
<path d="M453.7,264.1L457.1,269.0L453.7,273.9L450.3,269.0Z" stroke="#45ae52" stroke-width="1.8" fill="none"/>
<path d="M464.3,264.1L467.7,269.0L464.3,273.9L460.9,269.0Z" stroke="#45ae52" stroke-width="1.8" fill="none"/>
<path d="M464.3,248.3L467.7,253.2L464.3,258.1L460.9,253.2Z" stroke="#45ae52" stroke-width="1.8" fill="none"/>
<path d="M476.7,248.3L480.1,253.2L476.7,258.1L473.3,253.2Z" stroke="#45ae52" stroke-width="1.8" fill="none"/>
<path d="M476.7,232.6L480.1,237.5L476.7,242.4L473.3,237.5Z" stroke="#45ae52" stroke-width="1.8" fill="none"/>
<path d="M488.1,232.6L491.5,237.5L488.1,242.4L484.7,237.5Z" stroke="#45ae52" stroke-width="1.8" fill="none"/>
<path d="M488.1,216.8L491.5,221.7L488.1,226.6L484.7,221.7Z" stroke="#45ae52" stroke-width="1.8" fill="none"/>
<path d="M499.1,216.8L502.5,221.7L499.1,226.6L495.7,221.7Z" stroke="#45ae52" stroke-width="1.8" fill="none"/>
<path d="M499.1,201.1L502.5,206.0L499.1,210.9L495.7,206.0Z" stroke="#45ae52" stroke-width="1.8" fill="none"/>
<path d="M505.6,201.1L509.0,206.0L505.6,210.9L502.2,206.0Z" stroke="#45ae52" stroke-width="1.8" fill="none"/>
<path d="M505.6,185.3L509.0,190.2L505.6,195.1L502.2,190.2Z" stroke="#45ae52" stroke-width="1.8" fill="none"/>
<path d="M510.6,185.3L514.0,190.2L510.6,195.1L507.2,190.2Z" stroke="#45ae52" stroke-width="1.8" fill="none"/>
<path d="M510.6,169.6L514.0,174.5L510.6,179.4L507.2,174.5Z" stroke="#45ae52" stroke-width="1.8" fill="none"/>
<path d="M511.5,169.6L514.9,174.5L511.5,179.4L508.1,174.5Z" stroke="#45ae52" stroke-width="1.8" fill="none"/>
<path d="M511.5,153.8L514.9,158.7L511.5,163.6L508.1,158.7Z" stroke="#45ae52" stroke-width="1.8" fill="none"/>
<path d="M504.6,153.8L508.0,158.7L504.6,163.6L501.2,158.7Z" stroke="#45ae52" stroke-width="1.8" fill="none"/>
<path d="M504.6,138.1L508.0,143.0L504.6,147.9L501.2,143.0Z" stroke="#45ae52" stroke-width="1.8" fill="none"/>
<path d="M498.7,138.1L502.1,143.0L498.7,147.9L495.3,143.0Z" stroke="#45ae52" stroke-width="1.8" fill="none"/>
<path d="M498.7,122.3L502.1,127.2L498.7,132.1L495.3,127.2Z" stroke="#45ae52" stroke-width="1.8" fill="none"/>
<path d="M497.8,122.3L501.2,127.2L497.8,132.1L494.4,127.2Z" stroke="#45ae52" stroke-width="1.8" fill="none"/>
<path d="M497.8,106.6L501.2,111.5L497.8,116.4L494.4,111.5Z" stroke="#45ae52" stroke-width="1.8" fill="none"/>
<path d="M489.0,106.6L492.4,111.5L489.0,116.4L485.6,111.5Z" stroke="#45ae52" stroke-width="1.8" fill="none"/>
<path d="M489.0,90.8L492.4,95.7L489.0,100.6L485.6,95.7Z" stroke="#45ae52" stroke-width="1.8" fill="none"/>
<path d="M473.0,90.8L476.4,95.7L473.0,100.6L469.6,95.7Z" stroke="#45ae52" stroke-width="1.8" fill="none"/>
<path d="M473.0,75.1L476.4,80.0L473.0,84.9L469.6,80.0Z" stroke="#45ae52" stroke-width="1.8" fill="none"/>
<path d="M462.9,75.1L466.3,80.0L462.9,84.9L459.5,80.0Z" stroke="#45ae52" stroke-width="1.8" fill="none"/>
<path d="M462.9,59.3L466.3,64.2L462.9,69.1L459.5,64.2Z" stroke="#45ae52" stroke-width="1.8" fill="none"/>
<path d="M491.8,59.3L495.2,64.2L491.8,69.1L488.4,64.2Z" stroke="#45ae52" stroke-width="1.8" fill="none"/>
<path d="M491.8,43.6L495.2,48.5L491.8,53.4L488.4,48.5Z" stroke="#45ae52" stroke-width="1.8" fill="none"/>
<path d="M513.3,347.7 L493.6,332.0 L471.2,316.2 L453.7,300.5 L447.8,284.7 L452.4,269.0 L464.3,253.2 L476.7,237.5 L490.0,221.7 L500.1,206.0 L507.4,190.2 L510.6,174.5 L511.5,158.7 L505.6,143.0 L499.6,127.2 L496.8,111.5 L489.0,95.7 L474.8,80.0 L466.1,64.2 L511.1,48.5" stroke="#000" stroke-width="2.5" stroke-dasharray="6.5 2.8" fill="none"/>
<path d="M405.6,48.5V347.7H680.7" stroke="#262626" stroke-width="1.6" fill="none"/>
<path d="M405.6,347.7h3.5M405.6,332.0h3.5M405.6,316.2h3.5M405.6,300.5h3.5M405.6,284.7h3.5M405.6,269.0h3.5M405.6,253.2h3.5M405.6,237.5h3.5M405.6,221.7h3.5M405.6,206.0h3.5M405.6,190.2h3.5M405.6,174.5h3.5M405.6,158.7h3.5M405.6,143.0h3.5M405.6,127.2h3.5M405.6,111.5h3.5M405.6,95.7h3.5M405.6,80.0h3.5M405.6,64.2h3.5M405.6,48.5h3.5M405.6,347.7v-3.5M497.3,347.7v-3.5M589.0,347.7v-3.5M680.7,347.7v-3.5" stroke="#262626" stroke-width="1" fill="none"/>
<text x="400.8" y="354.1" text-anchor="end" class="tk">1</text>
<text x="400.8" y="338.4" text-anchor="end" class="tk">2</text>
<text x="400.8" y="322.6" text-anchor="end" class="tk">3</text>
<text x="400.8" y="306.9" text-anchor="end" class="tk">4</text>
<text x="400.8" y="291.1" text-anchor="end" class="tk">5</text>
<text x="400.8" y="275.4" text-anchor="end" class="tk">6</text>
<text x="400.8" y="259.6" text-anchor="end" class="tk">7</text>
<text x="400.8" y="243.9" text-anchor="end" class="tk">8</text>
<text x="400.8" y="228.1" text-anchor="end" class="tk">9</text>
<text x="400.8" y="212.4" text-anchor="end" class="tk">10</text>
<text x="400.8" y="196.6" text-anchor="end" class="tk">11</text>
<text x="400.8" y="180.9" text-anchor="end" class="tk">12</text>
<text x="400.8" y="165.1" text-anchor="end" class="tk">13</text>
<text x="400.8" y="149.4" text-anchor="end" class="tk">14</text>
<text x="400.8" y="133.6" text-anchor="end" class="tk">15</text>
<text x="400.8" y="117.9" text-anchor="end" class="tk">16</text>
<text x="400.8" y="102.1" text-anchor="end" class="tk">17</text>
<text x="400.8" y="86.4" text-anchor="end" class="tk">18</text>
<text x="400.8" y="70.6" text-anchor="end" class="tk">19</text>
<text x="400.8" y="54.9" text-anchor="end" class="tk">20</text>
<text x="405.6" y="368.7" text-anchor="middle" class="tk">0</text>
<text x="497.3" y="368.7" text-anchor="middle" class="tk">2</text>
<text x="589.0" y="368.7" text-anchor="middle" class="tk">4</text>
<text x="680.7" y="368.7" text-anchor="middle" class="tk">6</text>
<text x="543.2" y="388.2" text-anchor="middle" class="xl">&#916;<tspan class="sub" dy="4">Max</tspan><tspan dy="-4">(%</tspan><tspan font-style="italic">h</tspan>)</text>
<text transform="translate(376.6,198.1) rotate(-90)" text-anchor="middle" class="yl">Level</text>
<path d="M91.6,749.4V450.3M114.5,749.4V450.3M137.4,749.4V450.3M160.3,749.4V450.3M183.2,749.4V450.3M206.2,749.4V450.3M229.1,749.4V450.3M252.0,749.4V450.3M274.9,749.4V450.3M297.8,749.4V450.3M320.7,749.4V450.3M45.8,716.2H320.7M45.8,682.9H320.7M45.8,649.7H320.7M45.8,616.5H320.7M45.8,583.2H320.7M45.8,550.0H320.7M45.8,516.8H320.7M45.8,483.5H320.7M45.8,450.3H320.7" stroke="#a8a8a8" stroke-width="1" stroke-dasharray="2.5 1 1 1" fill="none" shape-rendering="crispEdges"/>
<clipPath id="cpC"><rect x="45.8" y="449.3" width="275.4" height="301.1"/></clipPath>
<g clip-path="url(#cpC)">
<path d="M69.2,749.4 L69.2,749.4 L69.2,716.2 L80.2,716.2 L80.2,682.9 L87.0,682.9 L87.0,649.7 L89.3,649.7 L89.3,616.5 L90.2,616.5 L90.2,583.2 L95.3,583.2 L95.3,550.0 L97.6,550.0 L97.6,516.8 L117.3,516.8 L117.3,483.5 L104.4,483.5 L104.4,450.3" stroke="#8f9cdb" stroke-width="1" fill="none"/>
<path d="M66.9,749.4 L66.9,749.4 L66.9,716.2 L71.9,716.2 L71.9,682.9 L61.4,682.9 L61.4,649.7 L72.8,649.7 L72.8,616.5 L63.7,616.5 L63.7,583.2 L75.1,583.2 L75.1,550.0 L88.0,550.0 L88.0,516.8 L103.5,516.8 L103.5,483.5 L91.6,483.5 L91.6,450.3" stroke="#8f9cdb" stroke-width="1" fill="none"/>
<path d="M74.2,749.4 L74.2,749.4 L74.2,716.2 L84.7,716.2 L84.7,682.9 L80.2,682.9 L80.2,649.7 L68.3,649.7 L68.3,616.5 L97.6,616.5 L97.6,583.2 L100.8,583.2 L100.8,550.0 L103.1,550.0 L103.1,516.8 L85.7,516.8 L85.7,483.5 L114.1,483.5 L114.1,450.3" stroke="#8f9cdb" stroke-width="1" fill="none"/>
<path d="M82.5,749.4 L82.5,749.4 L82.5,716.2 L64.6,716.2 L64.6,682.9 L63.7,682.9 L63.7,649.7 L60.0,649.7 L60.0,616.5 L70.5,616.5 L70.5,583.2 L81.1,583.2 L81.1,550.0 L85.7,550.0 L85.7,516.8 L112.7,516.8 L112.7,483.5 L109.9,483.5 L109.9,450.3" stroke="#8f9cdb" stroke-width="1" fill="none"/>
<path d="M71.9,749.4 L71.9,749.4 L71.9,716.2 L68.3,716.2 L68.3,682.9 L71.9,682.9 L71.9,649.7 L66.0,649.7 L66.0,616.5 L74.2,616.5 L74.2,583.2 L70.5,583.2 L70.5,550.0 L110.4,550.0 L110.4,516.8 L95.3,516.8 L95.3,483.5 L119.6,483.5 L119.6,450.3" stroke="#8f9cdb" stroke-width="1" fill="none"/>
<path d="M78.8,749.4 L78.8,749.4 L78.8,716.2 L77.9,716.2 L77.9,682.9 L68.3,682.9 L68.3,649.7 L85.7,649.7 L85.7,616.5 L78.8,616.5 L78.8,583.2 L68.3,583.2 L68.3,550.0 L77.4,550.0 L77.4,516.8 L90.2,516.8 L90.2,483.5 L100.8,483.5 L100.8,450.3" stroke="#8f9cdb" stroke-width="1" fill="none"/>
<path d="M84.7,749.4 L84.7,749.4 L84.7,716.2 L89.3,716.2 L89.3,682.9 L91.6,682.9 L91.6,649.7 L96.2,649.7 L96.2,616.5 L140.6,616.5 L140.6,583.2 L138.3,583.2 L138.3,550.0 L119.6,550.0 L119.6,516.8 L121.9,516.8 L121.9,483.5 L121.9,483.5 L121.9,450.3" stroke="#8f9cdb" stroke-width="1" fill="none"/>
<path d="M70.7,749.4 L70.7,749.4 L70.7,716.2 L70.6,716.2 L70.6,682.9 L66.6,682.9 L66.6,649.7 L67.5,649.7 L67.5,616.5 L72.6,616.5 L72.6,583.2 L72.6,583.2 L72.6,550.0 L87.3,550.0 L87.3,516.8 L92.4,516.8 L92.4,483.5 L102.8,483.5 L102.8,450.3" stroke="#8f9cdb" stroke-width="1" fill="none"/>
<path d="M76.9,749.4 L76.9,749.4 L76.9,716.2 L78.7,716.2 L78.7,682.9 L76.1,682.9 L76.1,649.7 L80.2,649.7 L80.2,616.5 L84.6,616.5 L84.6,583.2 L87.0,583.2 L87.0,550.0 L101.3,550.0 L101.3,516.8 L106.4,516.8 L106.4,483.5 L112.8,483.5 L112.8,450.3" stroke="#8f9cdb" stroke-width="1" fill="none"/>
<path d="M99.9,749.4 L99.9,749.4 L99.9,716.2 L132.4,716.2 L132.4,682.9 L112.2,682.9 L112.2,649.7 L108.1,649.7 L108.1,616.5 L112.7,616.5 L112.7,583.2 L126.9,583.2 L126.9,550.0 L115.0,550.0 L115.0,516.8 L115.0,516.8 L115.0,483.5 L115.0,483.5 L115.0,450.3" stroke="#9dd8a8" stroke-width="1" fill="none"/>
<path d="M136.1,749.4 L136.1,749.4 L136.1,716.2 L121.9,716.2 L121.9,682.9 L121.9,682.9 L121.9,649.7 L98.5,649.7 L98.5,616.5 L104.4,616.5 L104.4,583.2 L119.6,583.2 L119.6,550.0 L109.9,550.0 L109.9,516.8 L98.5,516.8 L98.5,483.5 L98.5,483.5 L98.5,450.3" stroke="#9dd8a8" stroke-width="1" fill="none"/>
<path d="M91.6,749.4 L91.6,749.4 L91.6,716.2 L103.5,716.2 L103.5,682.9 L98.5,682.9 L98.5,649.7 L124.1,649.7 L124.1,616.5 L98.5,616.5 L98.5,583.2 L98.5,583.2 L98.5,550.0 L100.8,550.0 L100.8,516.8 L91.6,516.8 L91.6,483.5 L90.2,483.5 L90.2,450.3" stroke="#9dd8a8" stroke-width="1" fill="none"/>
<path d="M108.1,749.4 L108.1,749.4 L108.1,716.2 L109.0,716.2 L109.0,682.9 L126.9,682.9 L126.9,649.7 L91.6,649.7 L91.6,616.5 L91.6,616.5 L91.6,583.2 L114.5,583.2 L114.5,550.0 L95.3,550.0 L95.3,516.8 L88.0,516.8 L88.0,483.5 L80.2,483.5 L80.2,450.3" stroke="#9dd8a8" stroke-width="1" fill="none"/>
<path d="M83.4,749.4 L83.4,749.4 L83.4,716.2 L93.9,716.2 L93.9,682.9 L91.6,682.9 L91.6,649.7 L119.1,649.7 L119.1,616.5 L121.9,616.5 L121.9,583.2 L108.1,583.2 L108.1,550.0 L88.0,550.0 L88.0,516.8 L119.6,516.8 L119.6,483.5 L88.0,483.5 L88.0,450.3" stroke="#9dd8a8" stroke-width="1" fill="none"/>
<path d="M121.9,749.4 L121.9,749.4 L121.9,716.2 L87.0,716.2 L87.0,682.9 L105.8,682.9 L105.8,649.7 L129.2,649.7 L129.2,616.5 L126.9,616.5 L126.9,583.2 L88.0,583.2 L88.0,550.0 L124.1,550.0 L124.1,516.8 L82.5,516.8 L82.5,483.5 L93.0,483.5 L93.0,450.3" stroke="#9dd8a8" stroke-width="1" fill="none"/>
<path d="M145.2,749.4 L145.2,749.4 L145.2,716.2 L142.9,716.2 L142.9,682.9 L136.1,682.9 L136.1,649.7 L134.7,649.7 L134.7,616.5 L133.8,616.5 L133.8,583.2 L137.4,583.2 L137.4,550.0 L127.8,550.0 L127.8,516.8 L129.2,516.8 L129.2,483.5 L123.2,483.5 L123.2,450.3" stroke="#9dd8a8" stroke-width="1" fill="none"/>
</g>
<path d="M160.3,749.4V450.3" stroke="#111" stroke-width="1.2" stroke-dasharray="4.5 2.2" fill="none"/>
<path d="M76.0,749.4 L76.0,749.4 L76.0,716.2 L76.0,716.2 L76.0,682.9 L76.0,682.9 L76.0,649.7 L80.2,649.7 L80.2,616.5 L85.2,616.5 L85.2,583.2 L91.2,583.2 L91.2,550.0 L98.0,550.0 L98.0,516.8 L101.2,516.8 L101.2,483.5 L106.3,483.5 L106.3,450.3" stroke="#2350b5" stroke-width="2.6" fill="none" stroke-linejoin="round"/>
<circle cx="76.0" cy="749.4" r="3.4" stroke="#2350b5" stroke-width="1.9" fill="none"/>
<circle cx="76.0" cy="749.4" r="3.4" stroke="#2350b5" stroke-width="1.9" fill="none"/>
<circle cx="76.0" cy="716.2" r="3.4" stroke="#2350b5" stroke-width="1.9" fill="none"/>
<circle cx="76.0" cy="716.2" r="3.4" stroke="#2350b5" stroke-width="1.9" fill="none"/>
<circle cx="76.0" cy="682.9" r="3.4" stroke="#2350b5" stroke-width="1.9" fill="none"/>
<circle cx="76.0" cy="682.9" r="3.4" stroke="#2350b5" stroke-width="1.9" fill="none"/>
<circle cx="76.0" cy="649.7" r="3.4" stroke="#2350b5" stroke-width="1.9" fill="none"/>
<circle cx="80.2" cy="649.7" r="3.4" stroke="#2350b5" stroke-width="1.9" fill="none"/>
<circle cx="80.2" cy="616.5" r="3.4" stroke="#2350b5" stroke-width="1.9" fill="none"/>
<circle cx="85.2" cy="616.5" r="3.4" stroke="#2350b5" stroke-width="1.9" fill="none"/>
<circle cx="85.2" cy="583.2" r="3.4" stroke="#2350b5" stroke-width="1.9" fill="none"/>
<circle cx="91.2" cy="583.2" r="3.4" stroke="#2350b5" stroke-width="1.9" fill="none"/>
<circle cx="91.2" cy="550.0" r="3.4" stroke="#2350b5" stroke-width="1.9" fill="none"/>
<circle cx="98.0" cy="550.0" r="3.4" stroke="#2350b5" stroke-width="1.9" fill="none"/>
<circle cx="98.0" cy="516.8" r="3.4" stroke="#2350b5" stroke-width="1.9" fill="none"/>
<circle cx="101.2" cy="516.8" r="3.4" stroke="#2350b5" stroke-width="1.9" fill="none"/>
<circle cx="101.2" cy="483.5" r="3.4" stroke="#2350b5" stroke-width="1.9" fill="none"/>
<circle cx="106.3" cy="483.5" r="3.4" stroke="#2350b5" stroke-width="1.9" fill="none"/>
<circle cx="106.3" cy="450.3" r="3.4" stroke="#2350b5" stroke-width="1.9" fill="none"/>
<path d="M111.3,749.4 L114.1,749.4 L114.1,716.2 L116.4,716.2 L116.4,682.9 L116.4,682.9 L116.4,649.7 L114.5,649.7 L114.5,616.5 L111.8,616.5 L111.8,583.2 L109.9,583.2 L109.9,550.0 L109.5,550.0 L109.5,516.8 L100.3,516.8 L100.3,483.5 L95.7,483.5 L95.7,450.3" stroke="#45ae52" stroke-width="2.6" fill="none" stroke-linejoin="round"/>
<path d="M111.3,744.5L114.7,749.4L111.3,754.3L107.9,749.4Z" stroke="#45ae52" stroke-width="1.8" fill="none"/>
<path d="M114.1,744.5L117.5,749.4L114.1,754.3L110.7,749.4Z" stroke="#45ae52" stroke-width="1.8" fill="none"/>
<path d="M114.1,711.3L117.5,716.2L114.1,721.1L110.7,716.2Z" stroke="#45ae52" stroke-width="1.8" fill="none"/>
<path d="M116.4,711.3L119.8,716.2L116.4,721.1L113.0,716.2Z" stroke="#45ae52" stroke-width="1.8" fill="none"/>
<path d="M116.4,678.0L119.8,682.9L116.4,687.8L113.0,682.9Z" stroke="#45ae52" stroke-width="1.8" fill="none"/>
<path d="M116.4,678.0L119.8,682.9L116.4,687.8L113.0,682.9Z" stroke="#45ae52" stroke-width="1.8" fill="none"/>
<path d="M116.4,644.8L119.8,649.7L116.4,654.6L113.0,649.7Z" stroke="#45ae52" stroke-width="1.8" fill="none"/>
<path d="M114.5,644.8L117.9,649.7L114.5,654.6L111.1,649.7Z" stroke="#45ae52" stroke-width="1.8" fill="none"/>
<path d="M114.5,611.6L117.9,616.5L114.5,621.4L111.1,616.5Z" stroke="#45ae52" stroke-width="1.8" fill="none"/>
<path d="M111.8,611.6L115.2,616.5L111.8,621.4L108.4,616.5Z" stroke="#45ae52" stroke-width="1.8" fill="none"/>
<path d="M111.8,578.3L115.2,583.2L111.8,588.1L108.4,583.2Z" stroke="#45ae52" stroke-width="1.8" fill="none"/>
<path d="M109.9,578.3L113.3,583.2L109.9,588.1L106.5,583.2Z" stroke="#45ae52" stroke-width="1.8" fill="none"/>
<path d="M109.9,545.1L113.3,550.0L109.9,554.9L106.5,550.0Z" stroke="#45ae52" stroke-width="1.8" fill="none"/>
<path d="M109.5,545.1L112.9,550.0L109.5,554.9L106.1,550.0Z" stroke="#45ae52" stroke-width="1.8" fill="none"/>
<path d="M109.5,511.9L112.9,516.8L109.5,521.7L106.1,516.8Z" stroke="#45ae52" stroke-width="1.8" fill="none"/>
<path d="M100.3,511.9L103.7,516.8L100.3,521.7L96.9,516.8Z" stroke="#45ae52" stroke-width="1.8" fill="none"/>
<path d="M100.3,478.6L103.7,483.5L100.3,488.4L96.9,483.5Z" stroke="#45ae52" stroke-width="1.8" fill="none"/>
<path d="M95.7,478.6L99.1,483.5L95.7,488.4L92.3,483.5Z" stroke="#45ae52" stroke-width="1.8" fill="none"/>
<path d="M95.7,445.4L99.1,450.3L95.7,455.2L92.3,450.3Z" stroke="#45ae52" stroke-width="1.8" fill="none"/>
<path d="M111.3,749.4 L113.6,716.2 L115.4,682.9 L115.9,649.7 L115.4,616.5 L112.2,583.2 L109.9,550.0 L107.7,516.8 L101.2,483.5 L106.3,450.3" stroke="#000" stroke-width="2.5" stroke-dasharray="8 2 2 2" fill="none"/>
<path d="M45.8,450.3V749.4H320.7" stroke="#262626" stroke-width="1.6" fill="none"/>
<path d="M45.8,749.4h3.5M45.8,716.2h3.5M45.8,682.9h3.5M45.8,649.7h3.5M45.8,616.5h3.5M45.8,583.2h3.5M45.8,550.0h3.5M45.8,516.8h3.5M45.8,483.5h3.5M45.8,450.3h3.5M45.8,749.4v-3.5M137.4,749.4v-3.5M229.1,749.4v-3.5M320.7,749.4v-3.5" stroke="#262626" stroke-width="1" fill="none"/>
<text x="41.0" y="755.8" text-anchor="end" class="tk">1</text>
<text x="41.0" y="722.6" text-anchor="end" class="tk">2</text>
<text x="41.0" y="689.3" text-anchor="end" class="tk">3</text>
<text x="41.0" y="656.1" text-anchor="end" class="tk">4</text>
<text x="41.0" y="622.9" text-anchor="end" class="tk">5</text>
<text x="41.0" y="589.6" text-anchor="end" class="tk">6</text>
<text x="41.0" y="556.4" text-anchor="end" class="tk">7</text>
<text x="41.0" y="523.2" text-anchor="end" class="tk">8</text>
<text x="41.0" y="489.9" text-anchor="end" class="tk">9</text>
<text x="41.0" y="456.7" text-anchor="end" class="tk">10</text>
<text x="45.8" y="770.4" text-anchor="middle" class="tk">0</text>
<text x="137.4" y="770.4" text-anchor="middle" class="tk">2</text>
<text x="229.1" y="770.4" text-anchor="middle" class="tk">4</text>
<text x="320.7" y="770.4" text-anchor="middle" class="tk">6</text>
<text x="183.2" y="789.9" text-anchor="middle" class="xl">&#916;<tspan class="sub" dy="4">Max</tspan><tspan dy="-4">(%</tspan><tspan font-style="italic">h</tspan>)</text>
<text transform="translate(16.8,599.9) rotate(-90)" text-anchor="middle" class="yl">Level</text>
<path d="M451.5,752.5V453.5M474.4,752.5V453.5M497.3,752.5V453.5M520.2,752.5V453.5M543.2,752.5V453.5M566.1,752.5V453.5M589.0,752.5V453.5M611.9,752.5V453.5M634.9,752.5V453.5M657.8,752.5V453.5M680.7,752.5V453.5M405.6,736.8H680.7M405.6,721.0H680.7M405.6,705.3H680.7M405.6,689.6H680.7M405.6,673.8H680.7M405.6,658.1H680.7M405.6,642.3H680.7M405.6,626.6H680.7M405.6,610.9H680.7M405.6,595.1H680.7M405.6,579.4H680.7M405.6,563.7H680.7M405.6,547.9H680.7M405.6,532.2H680.7M405.6,516.4H680.7M405.6,500.7H680.7M405.6,485.0H680.7M405.6,469.2H680.7M405.6,453.5H680.7" stroke="#a8a8a8" stroke-width="1" stroke-dasharray="2.5 1 1 1" fill="none" shape-rendering="crispEdges"/>
<clipPath id="cpD"><rect x="405.6" y="452.5" width="275.6" height="301.0"/></clipPath>
<g clip-path="url(#cpD)">
<path d="M425.3,752.5 L425.3,752.5 L425.3,736.8 L422.6,736.8 L422.6,721.0 L421.6,721.0 L421.6,705.3 L422.6,705.3 L422.6,689.6 L417.5,689.6 L417.5,673.8 L418.4,673.8 L418.4,658.1 L438.6,658.1 L438.6,642.3 L429.4,642.3 L429.4,626.6 L442.7,626.6 L442.7,610.9 L418.4,610.9 L418.4,595.1 L418.4,595.1 L418.4,579.4 L421.6,579.4 L421.6,563.7 L431.7,563.7 L431.7,547.9 L427.6,547.9 L427.6,532.2 L462.5,532.2 L462.5,516.4 L431.7,516.4 L431.7,500.7 L460.2,500.7 L460.2,485.0 L437.7,485.0 L437.7,469.2 L465.2,469.2 L465.2,453.5" stroke="#8f9cdb" stroke-width="1" fill="none"/>
<path d="M418.4,752.5 L418.4,752.5 L418.4,736.8 L424.4,736.8 L424.4,721.0 L430.8,721.0 L430.8,705.3 L431.7,705.3 L431.7,689.6 L420.3,689.6 L420.3,673.8 L421.6,673.8 L421.6,658.1 L421.6,658.1 L421.6,642.3 L441.8,642.3 L441.8,626.6 L430.8,626.6 L430.8,610.9 L428.5,610.9 L428.5,595.1 L442.7,595.1 L442.7,579.4 L445.9,579.4 L445.9,563.7 L437.7,563.7 L437.7,547.9 L431.7,547.9 L431.7,532.2 L432.7,532.2 L432.7,516.4 L456.0,516.4 L456.0,500.7 L450.1,500.7 L450.1,485.0 L441.8,485.0 L441.8,469.2 L444.1,469.2 L444.1,453.5" stroke="#8f9cdb" stroke-width="1" fill="none"/>
<path d="M428.5,752.5 L428.5,752.5 L428.5,736.8 L420.3,736.8 L420.3,721.0 L424.4,721.0 L424.4,705.3 L428.5,705.3 L428.5,689.6 L427.6,689.6 L427.6,673.8 L415.2,673.8 L415.2,658.1 L428.5,658.1 L428.5,642.3 L422.6,642.3 L422.6,626.6 L423.5,626.6 L423.5,610.9 L441.8,610.9 L441.8,595.1 L425.3,595.1 L425.3,579.4 L424.4,579.4 L424.4,563.7 L424.4,563.7 L424.4,547.9 L451.5,547.9 L451.5,532.2 L444.6,532.2 L444.6,516.4 L446.9,516.4 L446.9,500.7 L435.9,500.7 L435.9,485.0 L434.9,485.0 L434.9,469.2 L460.6,469.2 L460.6,453.5" stroke="#8f9cdb" stroke-width="1" fill="none"/>
<path d="M423.5,752.5 L423.5,752.5 L423.5,736.8 L430.8,736.8 L430.8,721.0 L417.5,721.0 L417.5,705.3 L419.4,705.3 L419.4,689.6 L435.9,689.6 L435.9,673.8 L427.6,673.8 L427.6,658.1 L418.4,658.1 L418.4,642.3 L416.1,642.3 L416.1,626.6 L416.1,626.6 L416.1,610.9 L435.9,610.9 L435.9,595.1 L430.8,595.1 L430.8,579.4 L440.9,579.4 L440.9,563.7 L442.7,563.7 L442.7,547.9 L435.9,547.9 L435.9,532.2 L429.4,532.2 L429.4,516.4 L472.5,516.4 L472.5,500.7 L442.7,500.7 L442.7,485.0 L461.5,485.0 L461.5,469.2 L440.9,469.2 L440.9,453.5" stroke="#8f9cdb" stroke-width="1" fill="none"/>
<path d="M420.3,752.5 L420.3,752.5 L420.3,736.8 L427.6,736.8 L427.6,721.0 L419.4,721.0 L419.4,705.3 L417.5,705.3 L417.5,689.6 L429.4,689.6 L429.4,673.8 L435.9,673.8 L435.9,658.1 L431.7,658.1 L431.7,642.3 L431.7,642.3 L431.7,626.6 L419.4,626.6 L419.4,610.9 L415.2,610.9 L415.2,595.1 L421.6,595.1 L421.6,579.4 L434.0,579.4 L434.0,563.7 L448.2,563.7 L448.2,547.9 L440.9,547.9 L440.9,532.2 L454.2,532.2 L454.2,516.4 L437.7,516.4 L437.7,500.7 L464.3,500.7 L464.3,485.0 L450.1,485.0 L450.1,469.2 L456.0,469.2 L456.0,453.5" stroke="#8f9cdb" stroke-width="1" fill="none"/>
<path d="M422.6,752.5 L422.6,752.5 L422.6,736.8 L418.4,736.8 L418.4,721.0 L427.6,721.0 L427.6,705.3 L424.4,705.3 L424.4,689.6 L415.2,689.6 L415.2,673.8 L430.8,673.8 L430.8,658.1 L415.2,658.1 L415.2,642.3 L419.4,642.3 L419.4,626.6 L433.6,626.6 L433.6,610.9 L423.5,610.9 L423.5,595.1 L437.7,595.1 L437.7,579.4 L428.5,579.4 L428.5,563.7 L427.6,563.7 L427.6,547.9 L446.9,547.9 L446.9,532.2 L435.9,532.2 L435.9,516.4 L434.9,516.4 L434.9,500.7 L431.7,500.7 L431.7,485.0 L457.4,485.0 L457.4,469.2 L446.9,469.2 L446.9,453.5" stroke="#8f9cdb" stroke-width="1" fill="none"/>
<path d="M430.8,752.5 L430.8,752.5 L430.8,736.8 L432.7,736.8 L432.7,721.0 L433.6,721.0 L433.6,705.3 L434.5,705.3 L434.5,689.6 L440.0,689.6 L440.0,673.8 L441.8,673.8 L441.8,658.1 L442.7,658.1 L442.7,642.3 L445.9,642.3 L445.9,626.6 L449.2,626.6 L449.2,610.9 L447.8,610.9 L447.8,595.1 L449.2,595.1 L449.2,579.4 L451.0,579.4 L451.0,563.7 L453.3,563.7 L453.3,547.9 L454.2,547.9 L454.2,532.2 L466.6,532.2 L466.6,516.4 L480.8,516.4 L480.8,500.7 L478.5,500.7 L478.5,485.0 L470.7,485.0 L470.7,469.2 L470.7,469.2 L470.7,453.5" stroke="#8f9cdb" stroke-width="1" fill="none"/>
<path d="M421.3,752.5 L421.3,752.5 L421.3,736.8 L421.0,736.8 L421.0,721.0 L420.2,721.0 L420.2,705.3 L421.2,705.3 L421.2,689.6 L419.0,689.6 L419.0,673.8 L419.8,673.8 L419.8,658.1 L420.6,658.1 L420.6,642.3 L421.0,642.3 L421.0,626.6 L422.0,626.6 L422.0,610.9 L421.7,610.9 L421.7,595.1 L424.1,595.1 L424.1,579.4 L426.0,579.4 L426.0,563.7 L430.3,563.7 L430.3,547.9 L434.2,547.9 L434.2,532.2 L434.4,532.2 L434.4,516.4 L435.9,516.4 L435.9,500.7 L440.4,500.7 L440.4,485.0 L439.8,485.0 L439.8,469.2 L445.4,469.2 L445.4,453.5" stroke="#8f9cdb" stroke-width="1" fill="none"/>
<path d="M424.1,752.5 L424.1,752.5 L424.1,736.8 L425.6,736.8 L425.6,721.0 L425.5,721.0 L425.5,705.3 L426.8,705.3 L426.8,689.6 L428.6,689.6 L428.6,673.8 L429.4,673.8 L429.4,658.1 L429.6,658.1 L429.6,642.3 L430.2,642.3 L430.2,626.6 L432.6,626.6 L432.6,610.9 L433.2,610.9 L433.2,595.1 L435.0,595.1 L435.0,579.4 L438.2,579.4 L438.2,563.7 L440.3,563.7 L440.3,547.9 L443.7,547.9 L443.7,532.2 L450.3,532.2 L450.3,516.4 L453.3,516.4 L453.3,500.7 L455.4,500.7 L455.4,485.0 L454.1,485.0 L454.1,469.2 L458.2,469.2 L458.2,453.5" stroke="#8f9cdb" stroke-width="1" fill="none"/>
<path d="M460.2,752.5 L460.2,752.5 L460.2,736.8 L440.0,736.8 L440.0,721.0 L466.6,721.0 L466.6,705.3 L434.9,705.3 L434.9,689.6 L445.9,689.6 L445.9,673.8 L462.5,673.8 L462.5,658.1 L464.3,658.1 L464.3,642.3 L466.6,642.3 L466.6,626.6 L445.9,626.6 L445.9,610.9 L480.8,610.9 L480.8,595.1 L468.4,595.1 L468.4,579.4 L451.9,579.4 L451.9,563.7 L472.1,563.7 L472.1,547.9 L472.1,547.9 L472.1,532.2 L456.0,532.2 L456.0,516.4 L445.9,516.4 L445.9,500.7 L451.5,500.7 L451.5,485.0 L450.5,485.0 L450.5,469.2 L456.0,469.2 L456.0,453.5" stroke="#9dd8a8" stroke-width="1" fill="none"/>
<path d="M454.2,752.5 L454.2,752.5 L454.2,736.8 L445.0,736.8 L445.0,721.0 L433.6,721.0 L433.6,705.3 L444.1,705.3 L444.1,689.6 L472.5,689.6 L472.5,673.8 L470.7,673.8 L470.7,658.1 L444.1,658.1 L444.1,642.3 L445.0,642.3 L445.0,626.6 L460.6,626.6 L460.6,610.9 L450.1,610.9 L450.1,595.1 L473.5,595.1 L473.5,579.4 L486.8,579.4 L486.8,563.7 L451.9,563.7 L451.9,547.9 L485.8,547.9 L485.8,532.2 L449.2,532.2 L449.2,516.4 L466.6,516.4 L466.6,500.7 L466.6,500.7 L466.6,485.0 L445.0,485.0 L445.0,469.2 L451.9,469.2 L451.9,453.5" stroke="#9dd8a8" stroke-width="1" fill="none"/>
<path d="M434.9,752.5 L434.9,752.5 L434.9,736.8 L450.1,736.8 L450.1,721.0 L442.7,721.0 L442.7,705.3 L438.6,705.3 L438.6,689.6 L431.7,689.6 L431.7,673.8 L453.3,673.8 L453.3,658.1 L450.1,658.1 L450.1,642.3 L450.1,642.3 L450.1,626.6 L470.7,626.6 L470.7,610.9 L462.5,610.9 L462.5,595.1 L462.5,595.1 L462.5,579.4 L466.6,579.4 L466.6,563.7 L458.3,563.7 L458.3,547.9 L464.3,547.9 L464.3,532.2 L474.4,532.2 L474.4,516.4 L461.1,516.4 L461.1,500.7 L455.1,500.7 L455.1,485.0 L456.0,485.0 L456.0,469.2 L442.7,469.2 L442.7,453.5" stroke="#9dd8a8" stroke-width="1" fill="none"/>
<path d="M447.8,752.5 L447.8,752.5 L447.8,736.8 L456.0,736.8 L456.0,721.0 L451.0,721.0 L451.0,705.3 L457.0,705.3 L457.0,689.6 L452.4,689.6 L452.4,673.8 L445.9,673.8 L445.9,658.1 L436.8,658.1 L436.8,642.3 L458.3,642.3 L458.3,626.6 L451.9,626.6 L451.9,610.9 L456.0,610.9 L456.0,595.1 L484.0,595.1 L484.0,579.4 L472.1,579.4 L472.1,563.7 L486.8,563.7 L486.8,547.9 L454.2,547.9 L454.2,532.2 L467.5,532.2 L467.5,516.4 L469.8,516.4 L469.8,500.7 L447.8,500.7 L447.8,485.0 L453.3,485.0 L453.3,469.2 L445.9,469.2 L445.9,453.5" stroke="#9dd8a8" stroke-width="1" fill="none"/>
<path d="M441.8,752.5 L441.8,752.5 L441.8,736.8 L434.9,736.8 L434.9,721.0 L438.6,721.0 L438.6,705.3 L464.3,705.3 L464.3,689.6 L438.6,689.6 L438.6,673.8 L432.7,673.8 L432.7,658.1 L468.4,658.1 L468.4,642.3 L470.7,642.3 L470.7,626.6 L478.5,626.6 L478.5,610.9 L476.2,610.9 L476.2,595.1 L455.1,595.1 L455.1,579.4 L482.6,579.4 L482.6,563.7 L480.8,563.7 L480.8,547.9 L478.5,547.9 L478.5,532.2 L460.6,532.2 L460.6,516.4 L451.9,516.4 L451.9,500.7 L440.9,500.7 L440.9,485.0 L449.2,485.0 L449.2,469.2 L449.2,469.2 L449.2,453.5" stroke="#9dd8a8" stroke-width="1" fill="none"/>
<path d="M437.7,752.5 L437.7,752.5 L437.7,736.8 L462.5,736.8 L462.5,721.0 L458.3,721.0 L458.3,705.3 L451.5,705.3 L451.5,689.6 L464.3,689.6 L464.3,673.8 L440.0,673.8 L440.0,658.1 L456.0,658.1 L456.0,642.3 L440.9,642.3 L440.9,626.6 L440.9,626.6 L440.9,610.9 L469.8,610.9 L469.8,595.1 L479.0,595.1 L479.0,579.4 L458.3,579.4 L458.3,563.7 L464.3,563.7 L464.3,547.9 L459.2,547.9 L459.2,532.2 L479.0,532.2 L479.0,516.4 L455.1,516.4 L455.1,500.7 L461.1,500.7 L461.1,485.0 L440.9,485.0 L440.9,469.2 L439.5,469.2 L439.5,453.5" stroke="#9dd8a8" stroke-width="1" fill="none"/>
<path d="M466.6,752.5 L466.6,752.5 L466.6,736.8 L470.7,736.8 L470.7,721.0 L474.4,721.0 L474.4,705.3 L478.5,705.3 L478.5,689.6 L479.9,689.6 L479.9,673.8 L477.6,673.8 L477.6,658.1 L474.4,658.1 L474.4,642.3 L473.5,642.3 L473.5,626.6 L481.7,626.6 L481.7,610.9 L486.8,610.9 L486.8,595.1 L489.0,595.1 L489.0,579.4 L490.9,579.4 L490.9,563.7 L491.8,563.7 L491.8,547.9 L493.2,547.9 L493.2,532.2 L486.8,532.2 L486.8,516.4 L474.4,516.4 L474.4,500.7 L469.3,500.7 L469.3,485.0 L460.6,485.0 L460.6,469.2 L458.3,469.2 L458.3,453.5" stroke="#9dd8a8" stroke-width="1" fill="none"/>
</g>
<path d="M520.2,752.5V453.5" stroke="#111" stroke-width="1.2" stroke-dasharray="4.5 2.2" fill="none"/>
<path d="M422.6,752.5 L423.0,752.5 L423.0,736.8 L423.9,736.8 L423.9,721.0 L424.4,721.0 L424.4,705.3 L424.9,705.3 L424.9,689.6 L424.9,689.6 L424.9,673.8 L425.3,673.8 L425.3,658.1 L426.7,658.1 L426.7,642.3 L428.1,642.3 L428.1,626.6 L429.4,626.6 L429.4,610.9 L431.3,610.9 L431.3,595.1 L433.6,595.1 L433.6,579.4 L436.3,579.4 L436.3,563.7 L440.0,563.7 L440.0,547.9 L444.6,547.9 L444.6,532.2 L447.8,532.2 L447.8,516.4 L449.2,516.4 L449.2,500.7 L449.6,500.7 L449.6,485.0 L450.1,485.0 L450.1,469.2 L451.0,469.2 L451.0,453.5" stroke="#2350b5" stroke-width="2.6" fill="none" stroke-linejoin="round"/>
<circle cx="422.6" cy="752.5" r="3.4" stroke="#2350b5" stroke-width="1.9" fill="none"/>
<circle cx="423.0" cy="752.5" r="3.4" stroke="#2350b5" stroke-width="1.9" fill="none"/>
<circle cx="423.0" cy="736.8" r="3.4" stroke="#2350b5" stroke-width="1.9" fill="none"/>
<circle cx="423.9" cy="736.8" r="3.4" stroke="#2350b5" stroke-width="1.9" fill="none"/>
<circle cx="423.9" cy="721.0" r="3.4" stroke="#2350b5" stroke-width="1.9" fill="none"/>
<circle cx="424.4" cy="721.0" r="3.4" stroke="#2350b5" stroke-width="1.9" fill="none"/>
<circle cx="424.4" cy="705.3" r="3.4" stroke="#2350b5" stroke-width="1.9" fill="none"/>
<circle cx="424.9" cy="705.3" r="3.4" stroke="#2350b5" stroke-width="1.9" fill="none"/>
<circle cx="424.9" cy="689.6" r="3.4" stroke="#2350b5" stroke-width="1.9" fill="none"/>
<circle cx="424.9" cy="689.6" r="3.4" stroke="#2350b5" stroke-width="1.9" fill="none"/>
<circle cx="424.9" cy="673.8" r="3.4" stroke="#2350b5" stroke-width="1.9" fill="none"/>
<circle cx="425.3" cy="673.8" r="3.4" stroke="#2350b5" stroke-width="1.9" fill="none"/>
<circle cx="425.3" cy="658.1" r="3.4" stroke="#2350b5" stroke-width="1.9" fill="none"/>
<circle cx="426.7" cy="658.1" r="3.4" stroke="#2350b5" stroke-width="1.9" fill="none"/>
<circle cx="426.7" cy="642.3" r="3.4" stroke="#2350b5" stroke-width="1.9" fill="none"/>
<circle cx="428.1" cy="642.3" r="3.4" stroke="#2350b5" stroke-width="1.9" fill="none"/>
<circle cx="428.1" cy="626.6" r="3.4" stroke="#2350b5" stroke-width="1.9" fill="none"/>
<circle cx="429.4" cy="626.6" r="3.4" stroke="#2350b5" stroke-width="1.9" fill="none"/>
<circle cx="429.4" cy="610.9" r="3.4" stroke="#2350b5" stroke-width="1.9" fill="none"/>
<circle cx="431.3" cy="610.9" r="3.4" stroke="#2350b5" stroke-width="1.9" fill="none"/>
<circle cx="431.3" cy="595.1" r="3.4" stroke="#2350b5" stroke-width="1.9" fill="none"/>
<circle cx="433.6" cy="595.1" r="3.4" stroke="#2350b5" stroke-width="1.9" fill="none"/>
<circle cx="433.6" cy="579.4" r="3.4" stroke="#2350b5" stroke-width="1.9" fill="none"/>
<circle cx="436.3" cy="579.4" r="3.4" stroke="#2350b5" stroke-width="1.9" fill="none"/>
<circle cx="436.3" cy="563.7" r="3.4" stroke="#2350b5" stroke-width="1.9" fill="none"/>
<circle cx="440.0" cy="563.7" r="3.4" stroke="#2350b5" stroke-width="1.9" fill="none"/>
<circle cx="440.0" cy="547.9" r="3.4" stroke="#2350b5" stroke-width="1.9" fill="none"/>
<circle cx="444.6" cy="547.9" r="3.4" stroke="#2350b5" stroke-width="1.9" fill="none"/>
<circle cx="444.6" cy="532.2" r="3.4" stroke="#2350b5" stroke-width="1.9" fill="none"/>
<circle cx="447.8" cy="532.2" r="3.4" stroke="#2350b5" stroke-width="1.9" fill="none"/>
<circle cx="447.8" cy="516.4" r="3.4" stroke="#2350b5" stroke-width="1.9" fill="none"/>
<circle cx="449.2" cy="516.4" r="3.4" stroke="#2350b5" stroke-width="1.9" fill="none"/>
<circle cx="449.2" cy="500.7" r="3.4" stroke="#2350b5" stroke-width="1.9" fill="none"/>
<circle cx="449.6" cy="500.7" r="3.4" stroke="#2350b5" stroke-width="1.9" fill="none"/>
<circle cx="449.6" cy="485.0" r="3.4" stroke="#2350b5" stroke-width="1.9" fill="none"/>
<circle cx="450.1" cy="485.0" r="3.4" stroke="#2350b5" stroke-width="1.9" fill="none"/>
<circle cx="450.1" cy="469.2" r="3.4" stroke="#2350b5" stroke-width="1.9" fill="none"/>
<circle cx="451.0" cy="469.2" r="3.4" stroke="#2350b5" stroke-width="1.9" fill="none"/>
<circle cx="451.0" cy="453.5" r="3.4" stroke="#2350b5" stroke-width="1.9" fill="none"/>
<path d="M446.9,752.5 L447.8,752.5 L447.8,736.8 L449.2,736.8 L449.2,721.0 L450.1,721.0 L450.1,705.3 L451.5,705.3 L451.5,689.6 L453.7,689.6 L453.7,673.8 L457.4,673.8 L457.4,658.1 L459.7,658.1 L459.7,642.3 L462.9,642.3 L462.9,626.6 L467.5,626.6 L467.5,610.9 L470.7,610.9 L470.7,595.1 L473.0,595.1 L473.0,579.4 L474.4,579.4 L474.4,563.7 L473.9,563.7 L473.9,547.9 L472.1,547.9 L472.1,532.2 L466.6,532.2 L466.6,516.4 L461.1,516.4 L461.1,500.7 L455.6,500.7 L455.6,485.0 L448.2,485.0 L448.2,469.2 L446.9,469.2 L446.9,453.5" stroke="#45ae52" stroke-width="2.6" fill="none" stroke-linejoin="round"/>
<path d="M446.9,747.6L450.3,752.5L446.9,757.4L443.5,752.5Z" stroke="#45ae52" stroke-width="1.8" fill="none"/>
<path d="M447.8,747.6L451.2,752.5L447.8,757.4L444.4,752.5Z" stroke="#45ae52" stroke-width="1.8" fill="none"/>
<path d="M447.8,731.9L451.2,736.8L447.8,741.7L444.4,736.8Z" stroke="#45ae52" stroke-width="1.8" fill="none"/>
<path d="M449.2,731.9L452.6,736.8L449.2,741.7L445.8,736.8Z" stroke="#45ae52" stroke-width="1.8" fill="none"/>
<path d="M449.2,716.1L452.6,721.0L449.2,725.9L445.8,721.0Z" stroke="#45ae52" stroke-width="1.8" fill="none"/>
<path d="M450.1,716.1L453.5,721.0L450.1,725.9L446.7,721.0Z" stroke="#45ae52" stroke-width="1.8" fill="none"/>
<path d="M450.1,700.4L453.5,705.3L450.1,710.2L446.7,705.3Z" stroke="#45ae52" stroke-width="1.8" fill="none"/>
<path d="M451.5,700.4L454.9,705.3L451.5,710.2L448.1,705.3Z" stroke="#45ae52" stroke-width="1.8" fill="none"/>
<path d="M451.5,684.7L454.9,689.6L451.5,694.5L448.1,689.6Z" stroke="#45ae52" stroke-width="1.8" fill="none"/>
<path d="M453.7,684.7L457.1,689.6L453.7,694.5L450.3,689.6Z" stroke="#45ae52" stroke-width="1.8" fill="none"/>
<path d="M453.7,668.9L457.1,673.8L453.7,678.7L450.3,673.8Z" stroke="#45ae52" stroke-width="1.8" fill="none"/>
<path d="M457.4,668.9L460.8,673.8L457.4,678.7L454.0,673.8Z" stroke="#45ae52" stroke-width="1.8" fill="none"/>
<path d="M457.4,653.2L460.8,658.1L457.4,663.0L454.0,658.1Z" stroke="#45ae52" stroke-width="1.8" fill="none"/>
<path d="M459.7,653.2L463.1,658.1L459.7,663.0L456.3,658.1Z" stroke="#45ae52" stroke-width="1.8" fill="none"/>
<path d="M459.7,637.4L463.1,642.3L459.7,647.2L456.3,642.3Z" stroke="#45ae52" stroke-width="1.8" fill="none"/>
<path d="M462.9,637.4L466.3,642.3L462.9,647.2L459.5,642.3Z" stroke="#45ae52" stroke-width="1.8" fill="none"/>
<path d="M462.9,621.7L466.3,626.6L462.9,631.5L459.5,626.6Z" stroke="#45ae52" stroke-width="1.8" fill="none"/>
<path d="M467.5,621.7L470.9,626.6L467.5,631.5L464.1,626.6Z" stroke="#45ae52" stroke-width="1.8" fill="none"/>
<path d="M467.5,606.0L470.9,610.9L467.5,615.8L464.1,610.9Z" stroke="#45ae52" stroke-width="1.8" fill="none"/>
<path d="M470.7,606.0L474.1,610.9L470.7,615.8L467.3,610.9Z" stroke="#45ae52" stroke-width="1.8" fill="none"/>
<path d="M470.7,590.2L474.1,595.1L470.7,600.0L467.3,595.1Z" stroke="#45ae52" stroke-width="1.8" fill="none"/>
<path d="M473.0,590.2L476.4,595.1L473.0,600.0L469.6,595.1Z" stroke="#45ae52" stroke-width="1.8" fill="none"/>
<path d="M473.0,574.5L476.4,579.4L473.0,584.3L469.6,579.4Z" stroke="#45ae52" stroke-width="1.8" fill="none"/>
<path d="M474.4,574.5L477.8,579.4L474.4,584.3L471.0,579.4Z" stroke="#45ae52" stroke-width="1.8" fill="none"/>
<path d="M474.4,558.8L477.8,563.7L474.4,568.6L471.0,563.7Z" stroke="#45ae52" stroke-width="1.8" fill="none"/>
<path d="M473.9,558.8L477.3,563.7L473.9,568.6L470.5,563.7Z" stroke="#45ae52" stroke-width="1.8" fill="none"/>
<path d="M473.9,543.0L477.3,547.9L473.9,552.8L470.5,547.9Z" stroke="#45ae52" stroke-width="1.8" fill="none"/>
<path d="M472.1,543.0L475.5,547.9L472.1,552.8L468.7,547.9Z" stroke="#45ae52" stroke-width="1.8" fill="none"/>
<path d="M472.1,527.3L475.5,532.2L472.1,537.1L468.7,532.2Z" stroke="#45ae52" stroke-width="1.8" fill="none"/>
<path d="M466.6,527.3L470.0,532.2L466.6,537.1L463.2,532.2Z" stroke="#45ae52" stroke-width="1.8" fill="none"/>
<path d="M466.6,511.5L470.0,516.4L466.6,521.3L463.2,516.4Z" stroke="#45ae52" stroke-width="1.8" fill="none"/>
<path d="M461.1,511.5L464.5,516.4L461.1,521.3L457.7,516.4Z" stroke="#45ae52" stroke-width="1.8" fill="none"/>
<path d="M461.1,495.8L464.5,500.7L461.1,505.6L457.7,500.7Z" stroke="#45ae52" stroke-width="1.8" fill="none"/>
<path d="M455.6,495.8L459.0,500.7L455.6,505.6L452.2,500.7Z" stroke="#45ae52" stroke-width="1.8" fill="none"/>
<path d="M455.6,480.1L459.0,485.0L455.6,489.9L452.2,485.0Z" stroke="#45ae52" stroke-width="1.8" fill="none"/>
<path d="M448.2,480.1L451.6,485.0L448.2,489.9L444.8,485.0Z" stroke="#45ae52" stroke-width="1.8" fill="none"/>
<path d="M448.2,464.3L451.6,469.2L448.2,474.1L444.8,469.2Z" stroke="#45ae52" stroke-width="1.8" fill="none"/>
<path d="M446.9,464.3L450.3,469.2L446.9,474.1L443.5,469.2Z" stroke="#45ae52" stroke-width="1.8" fill="none"/>
<path d="M446.9,448.6L450.3,453.5L446.9,458.4L443.5,453.5Z" stroke="#45ae52" stroke-width="1.8" fill="none"/>
<path d="M446.9,752.5 L447.8,736.8 L449.2,721.0 L450.1,705.3 L451.5,689.6 L453.7,673.8 L457.4,658.1 L459.7,642.3 L462.9,626.6 L467.5,610.9 L470.2,595.1 L473.5,579.4 L474.4,563.7 L474.8,547.9 L472.1,532.2 L467.5,516.4 L461.1,500.7 L455.1,485.0 L449.6,469.2 L451.0,453.5" stroke="#000" stroke-width="2.5" stroke-dasharray="8 2 2 2" fill="none"/>
<path d="M405.6,453.5V752.5H680.7" stroke="#262626" stroke-width="1.6" fill="none"/>
<path d="M405.6,752.5h3.5M405.6,736.8h3.5M405.6,721.0h3.5M405.6,705.3h3.5M405.6,689.6h3.5M405.6,673.8h3.5M405.6,658.1h3.5M405.6,642.3h3.5M405.6,626.6h3.5M405.6,610.9h3.5M405.6,595.1h3.5M405.6,579.4h3.5M405.6,563.7h3.5M405.6,547.9h3.5M405.6,532.2h3.5M405.6,516.4h3.5M405.6,500.7h3.5M405.6,485.0h3.5M405.6,469.2h3.5M405.6,453.5h3.5M405.6,752.5v-3.5M497.3,752.5v-3.5M589.0,752.5v-3.5M680.7,752.5v-3.5" stroke="#262626" stroke-width="1" fill="none"/>
<text x="400.8" y="758.9" text-anchor="end" class="tk">1</text>
<text x="400.8" y="743.2" text-anchor="end" class="tk">2</text>
<text x="400.8" y="727.4" text-anchor="end" class="tk">3</text>
<text x="400.8" y="711.7" text-anchor="end" class="tk">4</text>
<text x="400.8" y="696.0" text-anchor="end" class="tk">5</text>
<text x="400.8" y="680.2" text-anchor="end" class="tk">6</text>
<text x="400.8" y="664.5" text-anchor="end" class="tk">7</text>
<text x="400.8" y="648.7" text-anchor="end" class="tk">8</text>
<text x="400.8" y="633.0" text-anchor="end" class="tk">9</text>
<text x="400.8" y="617.3" text-anchor="end" class="tk">10</text>
<text x="400.8" y="601.5" text-anchor="end" class="tk">11</text>
<text x="400.8" y="585.8" text-anchor="end" class="tk">12</text>
<text x="400.8" y="570.1" text-anchor="end" class="tk">13</text>
<text x="400.8" y="554.3" text-anchor="end" class="tk">14</text>
<text x="400.8" y="538.6" text-anchor="end" class="tk">15</text>
<text x="400.8" y="522.8" text-anchor="end" class="tk">16</text>
<text x="400.8" y="507.1" text-anchor="end" class="tk">17</text>
<text x="400.8" y="491.4" text-anchor="end" class="tk">18</text>
<text x="400.8" y="475.6" text-anchor="end" class="tk">19</text>
<text x="400.8" y="459.9" text-anchor="end" class="tk">20</text>
<text x="405.6" y="773.5" text-anchor="middle" class="tk">0</text>
<text x="497.3" y="773.5" text-anchor="middle" class="tk">2</text>
<text x="589.0" y="773.5" text-anchor="middle" class="tk">4</text>
<text x="680.7" y="773.5" text-anchor="middle" class="tk">6</text>
<text x="543.2" y="793.0" text-anchor="middle" class="xl">&#916;<tspan class="sub" dy="4">Max</tspan><tspan dy="-4">(%</tspan><tspan font-style="italic">h</tspan>)</text>
<text transform="translate(376.6,603.0) rotate(-90)" text-anchor="middle" class="yl">Level</text>
<text x="-0.8" y="15.8" class="pl">a)</text>
<text x="-1" y="417.8" class="pl" style="font-size:23.5px">b)</text>
<rect x="527.4" y="669.6" width="151.2" height="70.4" fill="#fff" stroke="#262626" stroke-width="1.4"/>
<path d="M530.2,680.5H563.6" stroke="#5264c4" stroke-width="1.6"/>
<circle cx="546.8" cy="680.5" r="4.0" stroke="#5264c4" stroke-width="1.6" fill="none"/>
<path d="M530.2,697.6H563.6" stroke="#3fae5e" stroke-width="1.6"/>
<path d="M547.2,692.0L550.6,697.6L547.2,703.2L543.8,697.6Z" stroke="#3fae5e" stroke-width="1.6" fill="none"/>
<path d="M532,714.9H563.6" stroke="#222" stroke-width="1.7" stroke-dasharray="11 4 1.5 4"/>
<path d="M530.2,732.2H563.6" stroke="#222" stroke-width="1.7" stroke-dasharray="5.5 3.8"/>
<text x="572.7" y="685.5" class="lt">Mean Suite 1</text>
<text x="572.7" y="702.6" class="lt">Mean Suite 2</text>
<text x="572.7" y="719.9" class="lt">Seismic Demand</text>
<text x="572.7" y="737.2" class="lt">NBC limit</text>
</svg>
</body></html>
